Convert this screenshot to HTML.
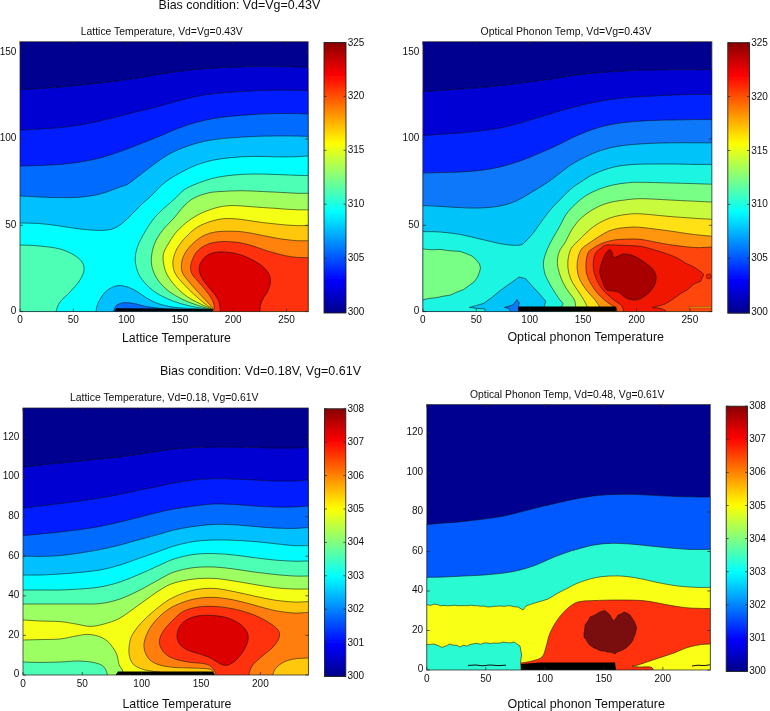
<!DOCTYPE html>
<html><head><meta charset="utf-8"><title>Lattice and optical phonon temperature contours</title>
<style>html,body{margin:0;padding:0;background:#fff}svg{display:block}text{font-family:"Liberation Sans", Arial, sans-serif;fill:#111}</style>
</head><body>
<svg width="770" height="711" viewBox="0 0 770 711">
<rect width="770" height="711" fill="#fff"/>
<defs><clipPath id="ctl"><rect x="20.0" y="41.7" width="288.2" height="269.9"/></clipPath><clipPath id="ctr"><rect x="422.9" y="41.7" width="289.0" height="269.9"/></clipPath><clipPath id="cbl"><rect x="23.0" y="408.0" width="285.4" height="267.0"/></clipPath><clipPath id="cbr"><rect x="426.8" y="404.5" width="283.5" height="265.5"/></clipPath><filter id="bl" x="-2%" y="-2%" width="104%" height="104%"><feGaussianBlur stdDeviation="0.45"/></filter></defs>
<g filter="url(#bl)">
<g clip-path="url(#ctl)">
<rect x="20.0" y="41.7" width="288.2" height="269.9" fill="#000090"/>
<path d="M14.0 89.6C15.2 89.6 16.7 89.8 21.0 89.6C25.3 89.4 33.5 88.8 40.0 88.4C46.5 88.0 53.3 87.6 60.0 87.0C66.7 86.4 73.3 85.7 80.0 85.0C86.7 84.3 93.3 83.7 100.0 83.0C106.7 82.3 113.3 81.5 120.0 80.6C126.7 79.7 133.3 78.7 140.0 77.6C146.7 76.5 154.3 74.9 160.0 74.0C165.7 73.1 168.3 72.7 174.0 72.0C179.7 71.3 187.3 70.3 194.0 69.6C200.7 68.9 207.3 68.4 214.0 68.0C220.7 67.6 227.3 67.3 234.0 67.0C240.7 66.7 247.3 66.5 254.0 66.4C260.7 66.3 267.3 66.3 274.0 66.4C280.7 66.5 288.4 66.6 294.0 66.8C299.6 67.0 304.2 67.3 307.6 67.4C311.0 67.5 313.1 67.4 314.2 67.4L314.2 317.6L14.0 317.6Z" fill="#0000d2"/>
<path d="M14.0 89.6C15.2 89.6 16.7 89.8 21.0 89.6C25.3 89.4 33.5 88.8 40.0 88.4C46.5 88.0 53.3 87.6 60.0 87.0C66.7 86.4 73.3 85.7 80.0 85.0C86.7 84.3 93.3 83.7 100.0 83.0C106.7 82.3 113.3 81.5 120.0 80.6C126.7 79.7 133.3 78.7 140.0 77.6C146.7 76.5 154.3 74.9 160.0 74.0C165.7 73.1 168.3 72.7 174.0 72.0C179.7 71.3 187.3 70.3 194.0 69.6C200.7 68.9 207.3 68.4 214.0 68.0C220.7 67.6 227.3 67.3 234.0 67.0C240.7 66.7 247.3 66.5 254.0 66.4C260.7 66.3 267.3 66.3 274.0 66.4C280.7 66.5 288.4 66.6 294.0 66.8C299.6 67.0 304.2 67.3 307.6 67.4C311.0 67.5 313.1 67.4 314.2 67.4" fill="none" stroke="#111" stroke-opacity="0.62" stroke-width="0.90"/>
<path d="M14.0 130.0C15.2 130.0 16.7 130.2 21.0 130.0C25.3 129.8 33.5 129.4 40.0 129.0C46.5 128.6 53.3 128.3 60.0 127.6C66.7 126.9 73.3 126.1 80.0 125.0C86.7 123.9 93.3 122.5 100.0 121.0C106.7 119.5 113.3 117.7 120.0 116.0C126.7 114.3 133.3 112.7 140.0 111.0C146.7 109.3 154.3 107.5 160.0 106.0C165.7 104.5 168.3 103.5 174.0 102.0C179.7 100.5 187.3 98.4 194.0 97.0C200.7 95.6 207.3 94.4 214.0 93.6C220.7 92.8 227.3 92.5 234.0 92.0C240.7 91.5 247.3 91.1 254.0 90.8C260.7 90.5 267.3 90.3 274.0 90.2C280.7 90.1 288.4 90.1 294.0 90.2C299.6 90.3 304.2 90.5 307.6 90.6C311.0 90.7 313.1 90.6 314.2 90.6L314.2 317.6L14.0 317.6Z" fill="#001cff"/>
<path d="M14.0 130.0C15.2 130.0 16.7 130.2 21.0 130.0C25.3 129.8 33.5 129.4 40.0 129.0C46.5 128.6 53.3 128.3 60.0 127.6C66.7 126.9 73.3 126.1 80.0 125.0C86.7 123.9 93.3 122.5 100.0 121.0C106.7 119.5 113.3 117.7 120.0 116.0C126.7 114.3 133.3 112.7 140.0 111.0C146.7 109.3 154.3 107.5 160.0 106.0C165.7 104.5 168.3 103.5 174.0 102.0C179.7 100.5 187.3 98.4 194.0 97.0C200.7 95.6 207.3 94.4 214.0 93.6C220.7 92.8 227.3 92.5 234.0 92.0C240.7 91.5 247.3 91.1 254.0 90.8C260.7 90.5 267.3 90.3 274.0 90.2C280.7 90.1 288.4 90.1 294.0 90.2C299.6 90.3 304.2 90.5 307.6 90.6C311.0 90.7 313.1 90.6 314.2 90.6" fill="none" stroke="#111" stroke-opacity="0.62" stroke-width="0.90"/>
<path d="M14.0 166.0C15.2 166.0 16.7 166.1 21.0 166.0C25.3 165.9 33.5 165.7 40.0 165.4C46.5 165.1 53.3 165.0 60.0 164.4C66.7 163.8 73.3 163.1 80.0 162.0C86.7 160.9 93.3 159.7 100.0 158.0C106.7 156.3 113.3 153.9 120.0 151.6C126.7 149.3 133.3 146.6 140.0 144.0C146.7 141.4 154.3 138.3 160.0 136.0C165.7 133.7 168.3 132.2 174.0 130.0C179.7 127.8 187.3 124.9 194.0 123.0C200.7 121.1 207.3 119.6 214.0 118.4C220.7 117.2 227.3 116.7 234.0 116.0C240.7 115.3 247.3 114.8 254.0 114.4C260.7 114.0 267.3 113.7 274.0 113.6C280.7 113.5 288.4 113.5 294.0 113.6C299.6 113.7 304.2 113.9 307.6 114.0C311.0 114.1 313.1 114.0 314.2 114.0L314.2 317.6L14.0 317.6Z" fill="#006cff"/>
<path d="M14.0 166.0C15.2 166.0 16.7 166.1 21.0 166.0C25.3 165.9 33.5 165.7 40.0 165.4C46.5 165.1 53.3 165.0 60.0 164.4C66.7 163.8 73.3 163.1 80.0 162.0C86.7 160.9 93.3 159.7 100.0 158.0C106.7 156.3 113.3 153.9 120.0 151.6C126.7 149.3 133.3 146.6 140.0 144.0C146.7 141.4 154.3 138.3 160.0 136.0C165.7 133.7 168.3 132.2 174.0 130.0C179.7 127.8 187.3 124.9 194.0 123.0C200.7 121.1 207.3 119.6 214.0 118.4C220.7 117.2 227.3 116.7 234.0 116.0C240.7 115.3 247.3 114.8 254.0 114.4C260.7 114.0 267.3 113.7 274.0 113.6C280.7 113.5 288.4 113.5 294.0 113.6C299.6 113.7 304.2 113.9 307.6 114.0C311.0 114.1 313.1 114.0 314.2 114.0" fill="none" stroke="#111" stroke-opacity="0.62" stroke-width="0.90"/>
<path d="M14.0 196.0C15.2 196.0 16.7 195.8 21.0 196.0C25.3 196.2 33.5 196.7 40.0 197.0C46.5 197.3 53.3 197.6 60.0 197.6C66.7 197.6 73.3 197.8 80.0 197.2C86.7 196.6 93.3 195.7 100.0 194.0C106.7 192.3 115.3 188.7 120.0 187.0C124.7 185.3 124.7 186.0 128.0 184.0C131.3 182.0 134.7 179.0 140.0 175.0C145.3 171.0 154.3 163.9 160.0 160.0C165.7 156.1 168.3 154.3 174.0 151.6C179.7 148.9 187.3 146.0 194.0 144.0C200.7 142.0 207.3 140.7 214.0 139.6C220.7 138.5 227.3 138.1 234.0 137.6C240.7 137.1 247.3 136.7 254.0 136.4C260.7 136.1 267.3 136.1 274.0 136.0C280.7 135.9 288.4 135.9 294.0 136.0C299.6 136.1 304.2 136.3 307.6 136.4C311.0 136.5 313.1 136.4 314.2 136.4L314.2 317.6L14.0 317.6Z" fill="#00c0ff"/>
<path d="M14.0 196.0C15.2 196.0 16.7 195.8 21.0 196.0C25.3 196.2 33.5 196.7 40.0 197.0C46.5 197.3 53.3 197.6 60.0 197.6C66.7 197.6 73.3 197.8 80.0 197.2C86.7 196.6 93.3 195.7 100.0 194.0C106.7 192.3 115.3 188.7 120.0 187.0C124.7 185.3 124.7 186.0 128.0 184.0C131.3 182.0 134.7 179.0 140.0 175.0C145.3 171.0 154.3 163.9 160.0 160.0C165.7 156.1 168.3 154.3 174.0 151.6C179.7 148.9 187.3 146.0 194.0 144.0C200.7 142.0 207.3 140.7 214.0 139.6C220.7 138.5 227.3 138.1 234.0 137.6C240.7 137.1 247.3 136.7 254.0 136.4C260.7 136.1 267.3 136.1 274.0 136.0C280.7 135.9 288.4 135.9 294.0 136.0C299.6 136.1 304.2 136.3 307.6 136.4C311.0 136.5 313.1 136.4 314.2 136.4" fill="none" stroke="#111" stroke-opacity="0.62" stroke-width="0.90"/>
<path d="M14.0 223.0C15.2 223.0 16.7 222.9 21.0 223.0C25.3 223.1 33.5 223.1 40.0 223.6C46.5 224.1 53.3 225.1 60.0 226.0C66.7 226.9 73.3 228.3 80.0 229.0C86.7 229.7 94.3 230.5 100.0 230.4C105.7 230.3 109.7 230.1 114.0 228.4C118.3 226.7 121.7 223.7 126.0 220.0C130.3 216.3 135.7 210.2 140.0 206.0C144.3 201.8 148.2 198.7 152.0 195.0C155.8 191.3 159.3 187.1 163.0 184.0C166.7 180.9 168.8 179.4 174.0 176.4C179.2 173.4 187.3 168.7 194.0 166.0C200.7 163.3 207.3 161.4 214.0 160.0C220.7 158.6 227.3 158.0 234.0 157.4C240.7 156.8 247.3 156.5 254.0 156.4C260.7 156.3 267.3 156.7 274.0 156.8C280.7 156.9 288.4 156.9 294.0 156.8C299.6 156.7 304.2 156.1 307.6 156.0C311.0 155.9 313.1 156.0 314.2 156.0L314.2 317.6L14.0 317.6Z" fill="#00ffff"/>
<path d="M14.0 223.0C15.2 223.0 16.7 222.9 21.0 223.0C25.3 223.1 33.5 223.1 40.0 223.6C46.5 224.1 53.3 225.1 60.0 226.0C66.7 226.9 73.3 228.3 80.0 229.0C86.7 229.7 94.3 230.5 100.0 230.4C105.7 230.3 109.7 230.1 114.0 228.4C118.3 226.7 121.7 223.7 126.0 220.0C130.3 216.3 135.7 210.2 140.0 206.0C144.3 201.8 148.2 198.7 152.0 195.0C155.8 191.3 159.3 187.1 163.0 184.0C166.7 180.9 168.8 179.4 174.0 176.4C179.2 173.4 187.3 168.7 194.0 166.0C200.7 163.3 207.3 161.4 214.0 160.0C220.7 158.6 227.3 158.0 234.0 157.4C240.7 156.8 247.3 156.5 254.0 156.4C260.7 156.3 267.3 156.7 274.0 156.8C280.7 156.9 288.4 156.9 294.0 156.8C299.6 156.7 304.2 156.1 307.6 156.0C311.0 155.9 313.1 156.0 314.2 156.0" fill="none" stroke="#111" stroke-opacity="0.62" stroke-width="0.90"/>
<path d="M14.0 245.0C15.2 245.0 16.7 244.8 21.0 245.0C25.3 245.2 33.5 245.3 40.0 246.0C46.5 246.7 54.3 247.5 60.0 249.0C65.7 250.5 70.3 252.8 74.0 255.0C77.7 257.2 80.3 259.5 82.0 262.0C83.7 264.5 84.3 267.0 84.0 270.0C83.7 273.0 82.3 276.3 80.0 280.0C77.7 283.7 73.3 288.3 70.0 292.0C66.7 295.7 62.3 298.8 60.0 302.0C57.7 305.2 56.8 308.9 56.0 311.2C55.2 313.5 55.2 315.2 55.0 316.0L14.0 316.0Z" fill="#4dffb4"/>
<path d="M14.0 245.0C15.2 245.0 16.7 244.8 21.0 245.0C25.3 245.2 33.5 245.3 40.0 246.0C46.5 246.7 54.3 247.5 60.0 249.0C65.7 250.5 70.3 252.8 74.0 255.0C77.7 257.2 80.3 259.5 82.0 262.0C83.7 264.5 84.3 267.0 84.0 270.0C83.7 273.0 82.3 276.3 80.0 280.0C77.7 283.7 73.3 288.3 70.0 292.0C66.7 295.7 62.3 298.8 60.0 302.0C57.7 305.2 56.8 308.9 56.0 311.2C55.2 313.5 55.2 315.2 55.0 316.0" fill="none" stroke="#111" stroke-opacity="0.62" stroke-width="0.90"/>
<path d="M314.0 175.6C312.9 175.6 310.9 175.7 307.6 175.6C304.3 175.5 299.6 175.4 294.0 175.2C288.4 175.0 280.7 174.6 274.0 174.4C267.3 174.2 260.7 173.9 254.0 174.0C247.3 174.1 240.7 174.3 234.0 175.0C227.3 175.7 220.3 176.5 214.0 178.0C207.7 179.5 201.0 182.0 196.0 184.0C191.0 186.0 187.7 187.4 184.0 190.0C180.3 192.6 177.7 196.2 174.0 199.5C170.3 202.8 165.6 206.6 162.0 210.0C158.4 213.4 155.6 216.2 152.7 220.0C149.8 223.8 146.8 228.7 144.3 233.0C141.8 237.3 139.3 241.7 137.8 246.0C136.3 250.3 135.2 254.7 135.2 259.0C135.2 263.3 136.3 268.1 137.8 272.0C139.3 275.9 141.3 278.9 144.3 282.3C147.3 285.8 151.4 289.7 156.0 292.7C160.6 295.7 166.2 298.3 171.6 300.5C177.0 302.7 183.2 304.4 188.4 305.7C193.6 307.0 198.6 307.6 202.7 308.3C206.8 309.0 211.4 309.4 213.1 309.6L213.5 317.6L314.2 317.6Z" fill="#4dffb4"/>
<path d="M314.0 175.6C312.9 175.6 310.9 175.7 307.6 175.6C304.3 175.5 299.6 175.4 294.0 175.2C288.4 175.0 280.7 174.6 274.0 174.4C267.3 174.2 260.7 173.9 254.0 174.0C247.3 174.1 240.7 174.3 234.0 175.0C227.3 175.7 220.3 176.5 214.0 178.0C207.7 179.5 201.0 182.0 196.0 184.0C191.0 186.0 187.7 187.4 184.0 190.0C180.3 192.6 177.7 196.2 174.0 199.5C170.3 202.8 165.6 206.6 162.0 210.0C158.4 213.4 155.6 216.2 152.7 220.0C149.8 223.8 146.8 228.7 144.3 233.0C141.8 237.3 139.3 241.7 137.8 246.0C136.3 250.3 135.2 254.7 135.2 259.0C135.2 263.3 136.3 268.1 137.8 272.0C139.3 275.9 141.3 278.9 144.3 282.3C147.3 285.8 151.4 289.7 156.0 292.7C160.6 295.7 166.2 298.3 171.6 300.5C177.0 302.7 183.2 304.4 188.4 305.7C193.6 307.0 198.6 307.6 202.7 308.3C206.8 309.0 211.4 309.4 213.1 309.6" fill="none" stroke="#111" stroke-opacity="0.62" stroke-width="0.90"/>
<path d="M314.0 193.3C312.9 193.3 310.4 193.3 307.6 193.3C304.9 193.3 301.1 193.4 297.5 193.3C293.9 193.2 289.9 192.9 286.2 192.7C282.4 192.5 278.8 192.3 275.0 192.1C271.2 191.9 267.4 191.8 263.7 191.6C259.9 191.4 256.2 191.2 252.5 191.0C248.8 190.8 244.9 190.7 241.2 190.7C237.4 190.7 233.7 190.8 230.0 191.0C226.3 191.2 222.7 191.3 219.0 191.6C215.3 191.9 212.2 191.9 208.0 193.0C203.8 194.1 198.0 195.8 194.0 198.0C190.0 200.2 187.3 202.7 184.0 206.0C180.7 209.3 177.6 213.9 174.0 218.0C170.4 222.1 165.7 226.2 162.5 230.4C159.3 234.6 156.5 238.9 154.7 243.4C152.8 247.9 151.7 253.4 151.4 257.7C151.1 262.0 151.5 265.5 152.7 269.4C153.9 273.3 155.9 277.3 158.6 281.0C161.3 284.7 165.1 288.4 169.0 291.4C172.9 294.4 177.7 297.0 182.0 299.2C186.3 301.4 191.1 303.0 195.0 304.4C198.9 305.8 202.3 306.8 205.3 307.7C208.3 308.6 211.8 309.3 213.1 309.6L213.5 317.6L314.2 317.6Z" fill="#a0ff5e"/>
<path d="M314.0 193.3C312.9 193.3 310.4 193.3 307.6 193.3C304.9 193.3 301.1 193.4 297.5 193.3C293.9 193.2 289.9 192.9 286.2 192.7C282.4 192.5 278.8 192.3 275.0 192.1C271.2 191.9 267.4 191.8 263.7 191.6C259.9 191.4 256.2 191.2 252.5 191.0C248.8 190.8 244.9 190.7 241.2 190.7C237.4 190.7 233.7 190.8 230.0 191.0C226.3 191.2 222.7 191.3 219.0 191.6C215.3 191.9 212.2 191.9 208.0 193.0C203.8 194.1 198.0 195.8 194.0 198.0C190.0 200.2 187.3 202.7 184.0 206.0C180.7 209.3 177.6 213.9 174.0 218.0C170.4 222.1 165.7 226.2 162.5 230.4C159.3 234.6 156.5 238.9 154.7 243.4C152.8 247.9 151.7 253.4 151.4 257.7C151.1 262.0 151.5 265.5 152.7 269.4C153.9 273.3 155.9 277.3 158.6 281.0C161.3 284.7 165.1 288.4 169.0 291.4C172.9 294.4 177.7 297.0 182.0 299.2C186.3 301.4 191.1 303.0 195.0 304.4C198.9 305.8 202.3 306.8 205.3 307.7C208.3 308.6 211.8 309.3 213.1 309.6" fill="none" stroke="#111" stroke-opacity="0.62" stroke-width="0.90"/>
<path d="M314.0 209.8C312.9 209.8 310.4 209.8 307.6 209.8C304.9 209.8 301.1 209.9 297.5 209.8C293.9 209.7 289.9 209.4 286.2 209.2C282.4 208.9 278.8 208.6 275.0 208.3C271.2 208.0 267.4 207.8 263.7 207.6C259.9 207.3 256.2 207.1 252.5 206.8C248.8 206.5 244.9 206.1 241.2 205.9C237.4 205.7 233.7 205.4 230.0 205.6C226.3 205.8 222.4 206.3 219.0 207.0C215.6 207.7 212.4 208.9 209.3 210.0C206.2 211.1 203.7 211.9 200.2 213.7C196.7 215.5 192.1 218.1 188.3 221.0C184.5 223.9 180.4 227.7 177.3 231.0C174.2 234.3 172.2 237.5 170.0 241.1C167.8 244.7 164.9 248.9 163.8 252.5C162.7 256.1 163.0 259.2 163.5 262.9C164.0 266.6 165.0 270.6 167.0 274.5C169.0 278.4 172.2 282.5 175.5 286.2C178.8 289.9 183.2 293.8 187.1 296.6C191.0 299.4 195.3 301.3 198.8 303.1C202.3 304.9 205.5 306.2 207.9 307.3C210.3 308.4 212.2 309.2 213.1 309.6L213.5 317.6L314.2 317.6Z" fill="#f5ff14"/>
<path d="M314.0 209.8C312.9 209.8 310.4 209.8 307.6 209.8C304.9 209.8 301.1 209.9 297.5 209.8C293.9 209.7 289.9 209.4 286.2 209.2C282.4 208.9 278.8 208.6 275.0 208.3C271.2 208.0 267.4 207.8 263.7 207.6C259.9 207.3 256.2 207.1 252.5 206.8C248.8 206.5 244.9 206.1 241.2 205.9C237.4 205.7 233.7 205.4 230.0 205.6C226.3 205.8 222.4 206.3 219.0 207.0C215.6 207.7 212.4 208.9 209.3 210.0C206.2 211.1 203.7 211.9 200.2 213.7C196.7 215.5 192.1 218.1 188.3 221.0C184.5 223.9 180.4 227.7 177.3 231.0C174.2 234.3 172.2 237.5 170.0 241.1C167.8 244.7 164.9 248.9 163.8 252.5C162.7 256.1 163.0 259.2 163.5 262.9C164.0 266.6 165.0 270.6 167.0 274.5C169.0 278.4 172.2 282.5 175.5 286.2C178.8 289.9 183.2 293.8 187.1 296.6C191.0 299.4 195.3 301.3 198.8 303.1C202.3 304.9 205.5 306.2 207.9 307.3C210.3 308.4 212.2 309.2 213.1 309.6" fill="none" stroke="#111" stroke-opacity="0.62" stroke-width="0.90"/>
<path d="M314.0 225.6C312.9 225.6 310.4 225.6 307.6 225.6C304.9 225.6 301.1 225.7 297.5 225.6C293.9 225.5 289.9 225.3 286.2 225.0C282.4 224.7 278.8 224.3 275.0 223.9C271.2 223.5 267.4 223.2 263.7 222.7C259.9 222.2 256.2 221.6 252.5 221.1C248.8 220.6 244.8 219.8 241.2 219.4C237.6 219.0 234.5 218.7 231.0 218.6C227.5 218.5 224.4 218.4 220.3 219.1C216.2 219.8 210.7 221.3 206.6 222.8C202.5 224.3 199.1 225.9 195.6 228.3C192.1 230.7 188.4 234.4 185.5 237.4C182.6 240.4 180.1 243.6 178.2 246.6C176.3 249.6 175.0 252.7 174.1 255.7C173.2 258.7 172.7 261.4 172.9 264.5C173.1 267.6 173.8 270.8 175.5 274.0C177.2 277.2 180.2 280.3 183.2 283.6C186.2 286.9 190.1 290.8 193.6 294.0C197.1 297.2 201.2 300.8 204.0 303.1C206.8 305.4 209.0 306.6 210.5 307.7C212.0 308.8 212.7 309.3 213.1 309.6L213.5 317.6L314.2 317.6Z" fill="#ffc80a"/>
<path d="M314.0 225.6C312.9 225.6 310.4 225.6 307.6 225.6C304.9 225.6 301.1 225.7 297.5 225.6C293.9 225.5 289.9 225.3 286.2 225.0C282.4 224.7 278.8 224.3 275.0 223.9C271.2 223.5 267.4 223.2 263.7 222.7C259.9 222.2 256.2 221.6 252.5 221.1C248.8 220.6 244.8 219.8 241.2 219.4C237.6 219.0 234.5 218.7 231.0 218.6C227.5 218.5 224.4 218.4 220.3 219.1C216.2 219.8 210.7 221.3 206.6 222.8C202.5 224.3 199.1 225.9 195.6 228.3C192.1 230.7 188.4 234.4 185.5 237.4C182.6 240.4 180.1 243.6 178.2 246.6C176.3 249.6 175.0 252.7 174.1 255.7C173.2 258.7 172.7 261.4 172.9 264.5C173.1 267.6 173.8 270.8 175.5 274.0C177.2 277.2 180.2 280.3 183.2 283.6C186.2 286.9 190.1 290.8 193.6 294.0C197.1 297.2 201.2 300.8 204.0 303.1C206.8 305.4 209.0 306.6 210.5 307.7C212.0 308.8 212.7 309.3 213.1 309.6" fill="none" stroke="#111" stroke-opacity="0.62" stroke-width="0.90"/>
<path d="M314.0 240.7C312.9 240.7 310.4 240.7 307.6 240.7C304.9 240.7 301.1 240.9 297.5 240.7C293.9 240.5 289.9 240.1 286.2 239.6C282.4 239.1 278.8 238.6 275.0 237.9C271.2 237.2 267.4 236.4 263.7 235.7C259.9 234.9 256.2 234.1 252.5 233.4C248.8 232.7 245.0 232.1 241.2 231.7C237.3 231.3 233.7 231.2 229.4 231.2C225.2 231.2 219.8 231.2 215.7 231.9C211.6 232.6 208.0 233.6 204.7 235.1C201.3 236.6 198.3 238.9 195.6 241.1C192.9 243.3 190.3 246.0 188.3 248.4C186.3 250.8 184.8 253.0 183.7 255.7C182.5 258.4 181.6 261.8 181.4 264.8C181.2 267.8 181.6 270.8 182.8 273.5C184.0 276.2 186.2 278.2 188.4 281.0C190.6 283.8 193.4 287.0 196.2 290.1C199.0 293.2 202.8 297.2 205.3 299.9C207.8 302.6 209.9 304.8 211.2 306.4C212.5 308.0 213.0 309.1 213.3 309.6L213.5 317.6L314.2 317.6Z" fill="#ff820a"/>
<path d="M314.0 240.7C312.9 240.7 310.4 240.7 307.6 240.7C304.9 240.7 301.1 240.9 297.5 240.7C293.9 240.5 289.9 240.1 286.2 239.6C282.4 239.1 278.8 238.6 275.0 237.9C271.2 237.2 267.4 236.4 263.7 235.7C259.9 234.9 256.2 234.1 252.5 233.4C248.8 232.7 245.0 232.1 241.2 231.7C237.3 231.3 233.7 231.2 229.4 231.2C225.2 231.2 219.8 231.2 215.7 231.9C211.6 232.6 208.0 233.6 204.7 235.1C201.3 236.6 198.3 238.9 195.6 241.1C192.9 243.3 190.3 246.0 188.3 248.4C186.3 250.8 184.8 253.0 183.7 255.7C182.5 258.4 181.6 261.8 181.4 264.8C181.2 267.8 181.6 270.8 182.8 273.5C184.0 276.2 186.2 278.2 188.4 281.0C190.6 283.8 193.4 287.0 196.2 290.1C199.0 293.2 202.8 297.2 205.3 299.9C207.8 302.6 209.9 304.8 211.2 306.4C212.5 308.0 213.0 309.1 213.3 309.6" fill="none" stroke="#111" stroke-opacity="0.62" stroke-width="0.90"/>
<path d="M314.0 257.6C312.9 257.6 310.4 257.6 307.6 257.6C304.9 257.6 301.1 257.7 297.5 257.4C293.9 257.1 289.9 256.6 286.2 255.9C282.4 255.2 278.8 254.1 275.0 253.1C271.2 252.1 267.4 250.9 263.7 249.7C259.9 248.5 256.2 246.9 252.5 245.8C248.8 244.7 244.3 243.6 241.2 243.0C238.1 242.4 236.7 242.2 234.0 242.0C231.3 241.8 228.2 241.4 224.8 241.5C221.5 241.6 217.2 241.7 213.9 242.4C210.6 243.1 207.4 244.2 204.7 245.6C201.9 247.0 199.4 249.0 197.4 251.1C195.4 253.2 194.0 255.8 192.9 258.4C191.8 261.0 190.7 264.0 190.6 266.7C190.5 269.4 190.9 271.9 192.3 274.5C193.7 277.1 196.4 279.5 198.8 282.3C201.2 285.1 204.4 288.6 206.6 291.4C208.8 294.2 210.5 296.8 211.8 299.2C213.1 301.6 213.9 304.0 214.2 305.7C214.5 307.4 213.9 309.0 213.8 309.6L213.5 317.6L314.2 317.6Z" fill="#ff320a"/>
<path d="M314.0 257.6C312.9 257.6 310.4 257.6 307.6 257.6C304.9 257.6 301.1 257.7 297.5 257.4C293.9 257.1 289.9 256.6 286.2 255.9C282.4 255.2 278.8 254.1 275.0 253.1C271.2 252.1 267.4 250.9 263.7 249.7C259.9 248.5 256.2 246.9 252.5 245.8C248.8 244.7 244.3 243.6 241.2 243.0C238.1 242.4 236.7 242.2 234.0 242.0C231.3 241.8 228.2 241.4 224.8 241.5C221.5 241.6 217.2 241.7 213.9 242.4C210.6 243.1 207.4 244.2 204.7 245.6C201.9 247.0 199.4 249.0 197.4 251.1C195.4 253.2 194.0 255.8 192.9 258.4C191.8 261.0 190.7 264.0 190.6 266.7C190.5 269.4 190.9 271.9 192.3 274.5C193.7 277.1 196.4 279.5 198.8 282.3C201.2 285.1 204.4 288.6 206.6 291.4C208.8 294.2 210.5 296.8 211.8 299.2C213.1 301.6 213.9 304.0 214.2 305.7C214.5 307.4 213.9 309.0 213.8 309.6" fill="none" stroke="#111" stroke-opacity="0.62" stroke-width="0.90"/>
<path d="M220.5 316.0C220.5 315.2 220.6 313.9 220.3 311.5C220.1 309.1 220.0 304.7 219.0 301.8C218.0 298.9 216.2 296.6 214.4 294.0C212.6 291.4 210.1 289.0 207.9 286.2C205.7 283.4 202.9 280.1 201.4 277.1C199.9 274.2 199.1 271.1 199.1 268.5C199.1 265.9 200.2 263.3 201.5 261.2C202.8 259.1 204.5 257.1 206.6 255.7C208.7 254.2 211.2 253.1 213.9 252.5C216.6 251.9 219.9 251.8 223.0 251.9C226.1 252.0 228.8 252.2 232.2 252.8C235.6 253.5 239.2 254.1 243.5 255.8C247.8 257.5 254.0 260.4 258.0 263.0C262.0 265.6 265.3 268.6 267.4 271.4C269.5 274.2 270.3 276.6 270.5 279.7C270.7 282.8 269.6 286.9 268.4 290.0C267.2 293.1 264.5 295.9 263.2 298.4C261.9 300.9 261.0 302.8 260.5 305.0C260.0 307.2 260.1 309.7 260.0 311.5C259.9 313.3 260.0 315.2 260.0 316.0" fill="#dc0000"/>
<path d="M220.5 316.0C220.5 315.2 220.6 313.9 220.3 311.5C220.1 309.1 220.0 304.7 219.0 301.8C218.0 298.9 216.2 296.6 214.4 294.0C212.6 291.4 210.1 289.0 207.9 286.2C205.7 283.4 202.9 280.1 201.4 277.1C199.9 274.2 199.1 271.1 199.1 268.5C199.1 265.9 200.2 263.3 201.5 261.2C202.8 259.1 204.5 257.1 206.6 255.7C208.7 254.2 211.2 253.1 213.9 252.5C216.6 251.9 219.9 251.8 223.0 251.9C226.1 252.0 228.8 252.2 232.2 252.8C235.6 253.5 239.2 254.1 243.5 255.8C247.8 257.5 254.0 260.4 258.0 263.0C262.0 265.6 265.3 268.6 267.4 271.4C269.5 274.2 270.3 276.6 270.5 279.7C270.7 282.8 269.6 286.9 268.4 290.0C267.2 293.1 264.5 295.9 263.2 298.4C261.9 300.9 261.0 302.8 260.5 305.0C260.0 307.2 260.1 309.7 260.0 311.5C259.9 313.3 260.0 315.2 260.0 316.0" fill="none" stroke="#111" stroke-opacity="0.62" stroke-width="0.90"/>
<path d="M96.0 316.0C96.0 315.2 95.6 313.7 96.0 311.5C96.4 309.3 96.6 306.0 98.2 302.7C99.8 299.4 102.8 294.5 105.5 291.8C108.2 289.1 111.5 287.4 114.5 286.4C117.5 285.4 120.3 285.4 123.6 286.0C126.9 286.6 130.8 288.1 134.5 290.0C138.2 291.9 141.6 295.0 145.5 297.3C149.4 299.6 153.4 301.9 158.2 303.6C163.0 305.3 168.8 306.5 174.5 307.3C180.2 308.1 186.6 308.2 192.7 308.5C198.8 308.8 207.9 309.2 211.0 309.3L211.0 316.0Z" fill="#00c0ff"/>
<path d="M96.0 316.0C96.0 315.2 95.6 313.7 96.0 311.5C96.4 309.3 96.6 306.0 98.2 302.7C99.8 299.4 102.8 294.5 105.5 291.8C108.2 289.1 111.5 287.4 114.5 286.4C117.5 285.4 120.3 285.4 123.6 286.0C126.9 286.6 130.8 288.1 134.5 290.0C138.2 291.9 141.6 295.0 145.5 297.3C149.4 299.6 153.4 301.9 158.2 303.6C163.0 305.3 168.8 306.5 174.5 307.3C180.2 308.1 186.6 308.2 192.7 308.5C198.8 308.8 207.9 309.2 211.0 309.3" fill="none" stroke="#111" stroke-opacity="0.62" stroke-width="0.90"/>
<path d="M113.6 316.0C113.6 315.2 113.1 313.2 113.6 311.5C114.1 309.8 114.7 307.0 116.4 305.5C118.1 304.0 120.6 303.0 123.6 302.7C126.6 302.4 130.8 303.0 134.5 303.6C138.2 304.2 140.9 305.6 145.5 306.4C150.1 307.2 156.1 308.0 161.8 308.5C167.6 309.0 177.0 309.3 180.0 309.5L180.0 316.0Z" fill="#006cff"/>
<path d="M113.6 316.0C113.6 315.2 113.1 313.2 113.6 311.5C114.1 309.8 114.7 307.0 116.4 305.5C118.1 304.0 120.6 303.0 123.6 302.7C126.6 302.4 130.8 303.0 134.5 303.6C138.2 304.2 140.9 305.6 145.5 306.4C150.1 307.2 156.1 308.0 161.8 308.5C167.6 309.0 177.0 309.3 180.0 309.5" fill="none" stroke="#111" stroke-opacity="0.62" stroke-width="0.90"/>
<path d="M114 312L116 308.3L160 308.6L213.5 309.2L213.5 312Z" fill="#000"/>
</g>
<rect x="20.0" y="41.7" width="288.2" height="269.9" fill="none" stroke="#222" stroke-opacity="0.8" stroke-width="0.9"/>
<g clip-path="url(#ctr)">
<rect x="422.9" y="41.7" width="289.0" height="269.9" fill="#000090"/>
<path d="M416.9 91.6C417.9 91.6 419.1 91.8 423.0 91.6C426.9 91.4 433.8 90.8 440.0 90.4C446.2 90.0 453.3 89.5 460.0 89.0C466.7 88.5 473.3 88.2 480.0 87.6C486.7 87.0 493.3 86.4 500.0 85.6C506.7 84.8 513.3 83.8 520.0 83.0C526.7 82.2 533.3 81.5 540.0 80.6C546.7 79.7 554.3 78.5 560.0 77.6C565.7 76.7 568.3 76.1 574.0 75.3C579.7 74.5 587.3 73.6 594.0 73.0C600.7 72.4 607.3 72.0 614.0 71.6C620.7 71.2 627.3 70.7 634.0 70.4C640.7 70.1 647.3 70.1 654.0 70.0C660.7 69.9 667.3 69.7 674.0 69.6C680.7 69.5 687.7 69.6 694.0 69.6C700.3 69.6 707.6 69.6 711.6 69.6C715.6 69.6 716.9 69.6 717.9 69.6L717.9 317.6L416.9 317.6Z" fill="#0000d4"/>
<path d="M416.9 91.6C417.9 91.6 419.1 91.8 423.0 91.6C426.9 91.4 433.8 90.8 440.0 90.4C446.2 90.0 453.3 89.5 460.0 89.0C466.7 88.5 473.3 88.2 480.0 87.6C486.7 87.0 493.3 86.4 500.0 85.6C506.7 84.8 513.3 83.8 520.0 83.0C526.7 82.2 533.3 81.5 540.0 80.6C546.7 79.7 554.3 78.5 560.0 77.6C565.7 76.7 568.3 76.1 574.0 75.3C579.7 74.5 587.3 73.6 594.0 73.0C600.7 72.4 607.3 72.0 614.0 71.6C620.7 71.2 627.3 70.7 634.0 70.4C640.7 70.1 647.3 70.1 654.0 70.0C660.7 69.9 667.3 69.7 674.0 69.6C680.7 69.5 687.7 69.6 694.0 69.6C700.3 69.6 707.6 69.6 711.6 69.6C715.6 69.6 716.9 69.6 717.9 69.6" fill="none" stroke="#111" stroke-opacity="0.62" stroke-width="0.90"/>
<path d="M416.9 135.6C417.9 135.6 419.1 135.8 423.0 135.6C426.9 135.4 433.8 134.8 440.0 134.4C446.2 134.0 453.3 133.6 460.0 133.0C466.7 132.4 473.3 131.8 480.0 131.0C486.7 130.2 493.3 129.3 500.0 128.0C506.7 126.7 513.3 124.8 520.0 123.0C526.7 121.2 533.3 119.0 540.0 117.0C546.7 115.0 554.3 112.7 560.0 111.0C565.7 109.3 568.3 108.4 574.0 107.0C579.7 105.6 587.3 103.7 594.0 102.4C600.7 101.1 607.3 99.9 614.0 99.0C620.7 98.1 627.3 97.5 634.0 97.0C640.7 96.5 647.3 96.3 654.0 96.0C660.7 95.7 667.3 95.3 674.0 95.0C680.7 94.7 687.7 94.5 694.0 94.4C700.3 94.3 707.6 94.4 711.6 94.4C715.6 94.4 716.9 94.4 717.9 94.4L717.9 317.6L416.9 317.6Z" fill="#0024ff"/>
<path d="M416.9 135.6C417.9 135.6 419.1 135.8 423.0 135.6C426.9 135.4 433.8 134.8 440.0 134.4C446.2 134.0 453.3 133.6 460.0 133.0C466.7 132.4 473.3 131.8 480.0 131.0C486.7 130.2 493.3 129.3 500.0 128.0C506.7 126.7 513.3 124.8 520.0 123.0C526.7 121.2 533.3 119.0 540.0 117.0C546.7 115.0 554.3 112.7 560.0 111.0C565.7 109.3 568.3 108.4 574.0 107.0C579.7 105.6 587.3 103.7 594.0 102.4C600.7 101.1 607.3 99.9 614.0 99.0C620.7 98.1 627.3 97.5 634.0 97.0C640.7 96.5 647.3 96.3 654.0 96.0C660.7 95.7 667.3 95.3 674.0 95.0C680.7 94.7 687.7 94.5 694.0 94.4C700.3 94.3 707.6 94.4 711.6 94.4C715.6 94.4 716.9 94.4 717.9 94.4" fill="none" stroke="#111" stroke-opacity="0.62" stroke-width="0.90"/>
<path d="M416.9 173.0C417.9 173.0 419.1 173.1 423.0 173.0C426.9 172.9 433.8 172.8 440.0 172.6C446.2 172.4 453.3 172.4 460.0 172.0C466.7 171.6 473.3 171.2 480.0 170.4C486.7 169.6 493.3 168.6 500.0 167.0C506.7 165.4 513.3 163.3 520.0 161.0C526.7 158.7 533.3 155.8 540.0 153.0C546.7 150.2 554.3 146.7 560.0 144.0C565.7 141.3 568.3 139.5 574.0 137.0C579.7 134.5 587.3 131.2 594.0 129.0C600.7 126.8 607.3 125.2 614.0 124.0C620.7 122.8 627.3 122.2 634.0 121.6C640.7 121.0 647.3 120.7 654.0 120.4C660.7 120.1 667.3 120.1 674.0 120.0C680.7 119.9 687.7 119.7 694.0 119.6C700.3 119.5 707.6 119.6 711.6 119.6C715.6 119.6 716.9 119.6 717.9 119.6L717.9 317.6L416.9 317.6Z" fill="#0a78fa"/>
<path d="M416.9 173.0C417.9 173.0 419.1 173.1 423.0 173.0C426.9 172.9 433.8 172.8 440.0 172.6C446.2 172.4 453.3 172.4 460.0 172.0C466.7 171.6 473.3 171.2 480.0 170.4C486.7 169.6 493.3 168.6 500.0 167.0C506.7 165.4 513.3 163.3 520.0 161.0C526.7 158.7 533.3 155.8 540.0 153.0C546.7 150.2 554.3 146.7 560.0 144.0C565.7 141.3 568.3 139.5 574.0 137.0C579.7 134.5 587.3 131.2 594.0 129.0C600.7 126.8 607.3 125.2 614.0 124.0C620.7 122.8 627.3 122.2 634.0 121.6C640.7 121.0 647.3 120.7 654.0 120.4C660.7 120.1 667.3 120.1 674.0 120.0C680.7 119.9 687.7 119.7 694.0 119.6C700.3 119.5 707.6 119.6 711.6 119.6C715.6 119.6 716.9 119.6 717.9 119.6" fill="none" stroke="#111" stroke-opacity="0.62" stroke-width="0.90"/>
<path d="M416.9 205.6C417.9 205.6 419.1 205.5 423.0 205.6C426.9 205.7 433.8 206.1 440.0 206.4C446.2 206.7 453.3 207.3 460.0 207.6C466.7 207.9 473.3 208.3 480.0 208.0C486.7 207.7 494.0 207.2 500.0 206.0C506.0 204.8 510.7 203.3 516.0 201.0C521.3 198.7 526.7 195.2 532.0 192.0C537.3 188.8 543.3 185.2 548.0 182.0C552.7 178.8 555.7 176.2 560.0 173.0C564.3 169.8 568.3 166.3 574.0 163.0C579.7 159.7 587.3 155.7 594.0 153.0C600.7 150.3 607.3 148.4 614.0 147.0C620.7 145.6 627.3 145.0 634.0 144.4C640.7 143.8 647.3 143.5 654.0 143.2C660.7 142.9 667.3 142.9 674.0 142.8C680.7 142.7 687.7 142.8 694.0 142.8C700.3 142.8 707.6 142.8 711.6 142.8C715.6 142.8 716.9 142.8 717.9 142.8L717.9 317.6L416.9 317.6Z" fill="#00c3fa"/>
<path d="M416.9 205.6C417.9 205.6 419.1 205.5 423.0 205.6C426.9 205.7 433.8 206.1 440.0 206.4C446.2 206.7 453.3 207.3 460.0 207.6C466.7 207.9 473.3 208.3 480.0 208.0C486.7 207.7 494.0 207.2 500.0 206.0C506.0 204.8 510.7 203.3 516.0 201.0C521.3 198.7 526.7 195.2 532.0 192.0C537.3 188.8 543.3 185.2 548.0 182.0C552.7 178.8 555.7 176.2 560.0 173.0C564.3 169.8 568.3 166.3 574.0 163.0C579.7 159.7 587.3 155.7 594.0 153.0C600.7 150.3 607.3 148.4 614.0 147.0C620.7 145.6 627.3 145.0 634.0 144.4C640.7 143.8 647.3 143.5 654.0 143.2C660.7 142.9 667.3 142.9 674.0 142.8C680.7 142.7 687.7 142.8 694.0 142.8C700.3 142.8 707.6 142.8 711.6 142.8C715.6 142.8 716.9 142.8 717.9 142.8" fill="none" stroke="#111" stroke-opacity="0.62" stroke-width="0.90"/>
<path d="M416.9 231.6C417.9 231.6 419.1 231.5 423.0 231.6C426.9 231.7 433.8 231.5 440.0 232.0C446.2 232.5 453.3 233.2 460.0 234.4C466.7 235.6 473.3 237.5 480.0 239.0C486.7 240.5 494.3 242.5 500.0 243.6C505.7 244.7 510.3 245.2 514.0 245.3C517.7 245.4 519.8 245.3 522.0 244.4C524.2 243.5 525.0 242.1 527.0 240.0C529.0 237.9 531.2 235.7 534.0 232.0C536.8 228.3 541.0 222.0 544.0 218.0C547.0 214.0 549.3 211.0 552.0 208.0C554.7 205.0 556.9 202.9 560.0 199.8C563.1 196.7 566.9 192.4 570.4 189.4C573.9 186.4 576.9 184.6 580.8 182.0C584.7 179.4 588.5 176.5 594.0 174.0C599.5 171.5 607.3 168.6 614.0 167.0C620.7 165.4 627.3 164.9 634.0 164.4C640.7 163.9 647.3 164.1 654.0 164.0C660.7 163.9 667.3 163.9 674.0 164.0C680.7 164.1 687.7 164.3 694.0 164.4C700.3 164.5 707.6 164.4 711.6 164.4C715.6 164.4 716.9 164.4 717.9 164.4L717.9 317.6L416.9 317.6Z" fill="#1ef5e1"/>
<path d="M416.9 231.6C417.9 231.6 419.1 231.5 423.0 231.6C426.9 231.7 433.8 231.5 440.0 232.0C446.2 232.5 453.3 233.2 460.0 234.4C466.7 235.6 473.3 237.5 480.0 239.0C486.7 240.5 494.3 242.5 500.0 243.6C505.7 244.7 510.3 245.2 514.0 245.3C517.7 245.4 519.8 245.3 522.0 244.4C524.2 243.5 525.0 242.1 527.0 240.0C529.0 237.9 531.2 235.7 534.0 232.0C536.8 228.3 541.0 222.0 544.0 218.0C547.0 214.0 549.3 211.0 552.0 208.0C554.7 205.0 556.9 202.9 560.0 199.8C563.1 196.7 566.9 192.4 570.4 189.4C573.9 186.4 576.9 184.6 580.8 182.0C584.7 179.4 588.5 176.5 594.0 174.0C599.5 171.5 607.3 168.6 614.0 167.0C620.7 165.4 627.3 164.9 634.0 164.4C640.7 163.9 647.3 164.1 654.0 164.0C660.7 163.9 667.3 163.9 674.0 164.0C680.7 164.1 687.7 164.3 694.0 164.4C700.3 164.5 707.6 164.4 711.6 164.4C715.6 164.4 716.9 164.4 717.9 164.4" fill="none" stroke="#111" stroke-opacity="0.62" stroke-width="0.90"/>
<path d="M416.0 249.0L423.0 249.0L432.0 249.8L440.0 249.4L450.0 250.8L460.0 251.4L466.0 253.5L472.0 256.0L476.0 259.5L479.5 264.0L480.5 268.0L479.5 272.0L477.5 277.0L474.0 282.0L469.0 285.5L464.0 289.4L457.0 292.0L450.0 295.2L443.0 296.2L436.0 297.8L429.0 298.4L423.0 299.8L416.0 300.0" fill="#78ff86"/>
<path d="M416.0 249.0L423.0 249.0L432.0 249.8L440.0 249.4L450.0 250.8L460.0 251.4L466.0 253.5L472.0 256.0L476.0 259.5L479.5 264.0L480.5 268.0L479.5 272.0L477.5 277.0L474.0 282.0L469.0 285.5L464.0 289.4L457.0 292.0L450.0 295.2L443.0 296.2L436.0 297.8L429.0 298.4L423.0 299.8L416.0 300.0" fill="none" stroke="#111" stroke-opacity="0.62" stroke-width="0.90"/>
<path d="M718.0 184.2C716.9 184.2 716.3 184.3 711.6 184.2C706.9 184.1 696.9 183.7 690.0 183.5C683.1 183.3 678.3 183.2 670.0 183.0C661.7 182.8 647.2 182.3 640.0 182.3C632.8 182.3 631.3 182.4 626.6 182.9C621.9 183.4 616.7 184.1 612.0 185.2C607.3 186.3 602.8 187.7 598.5 189.4C594.2 191.1 589.8 193.2 586.0 195.6C582.2 198.0 578.9 200.8 575.6 203.9C572.3 207.0 568.8 210.7 566.2 214.3C563.6 218.0 562.2 221.9 560.0 225.8C557.8 229.8 555.2 234.0 553.0 238.0C550.8 242.0 548.6 246.0 547.0 250.0C545.4 254.0 543.9 258.3 543.5 262.0C543.1 265.7 543.9 269.1 544.5 272.0C545.1 274.9 545.8 276.2 547.3 279.3C548.8 282.4 551.4 286.9 553.5 290.3C555.6 293.7 558.1 297.4 559.7 299.6C561.3 301.8 562.7 302.3 562.9 303.5C563.1 304.7 561.3 306.4 561.0 307.0L561.0 317.6L717.9 317.6Z" fill="#78ff86"/>
<path d="M718.0 184.2C716.9 184.2 716.3 184.3 711.6 184.2C706.9 184.1 696.9 183.7 690.0 183.5C683.1 183.3 678.3 183.2 670.0 183.0C661.7 182.8 647.2 182.3 640.0 182.3C632.8 182.3 631.3 182.4 626.6 182.9C621.9 183.4 616.7 184.1 612.0 185.2C607.3 186.3 602.8 187.7 598.5 189.4C594.2 191.1 589.8 193.2 586.0 195.6C582.2 198.0 578.9 200.8 575.6 203.9C572.3 207.0 568.8 210.7 566.2 214.3C563.6 218.0 562.2 221.9 560.0 225.8C557.8 229.8 555.2 234.0 553.0 238.0C550.8 242.0 548.6 246.0 547.0 250.0C545.4 254.0 543.9 258.3 543.5 262.0C543.1 265.7 543.9 269.1 544.5 272.0C545.1 274.9 545.8 276.2 547.3 279.3C548.8 282.4 551.4 286.9 553.5 290.3C555.6 293.7 558.1 297.4 559.7 299.6C561.3 301.8 562.7 302.3 562.9 303.5C563.1 304.7 561.3 306.4 561.0 307.0" fill="none" stroke="#111" stroke-opacity="0.62" stroke-width="0.90"/>
<path d="M718.0 202.0C716.9 202.0 716.3 202.2 711.6 202.0C706.9 201.8 696.9 201.3 690.0 201.0C683.1 200.7 678.3 200.4 670.0 200.0C661.7 199.6 647.9 198.6 640.0 198.7C632.1 198.8 627.4 199.7 622.4 200.3C617.4 200.9 614.0 201.4 610.0 202.4C606.0 203.4 602.3 204.7 598.5 206.5C594.7 208.3 590.5 210.8 587.0 213.3C583.5 215.8 580.5 218.5 577.7 221.6C574.9 224.7 572.5 228.5 570.4 232.0C568.3 235.5 566.9 239.4 565.2 242.4C563.5 245.4 561.3 247.2 560.0 250.0C558.7 252.8 557.8 256.0 557.5 259.0C557.2 262.0 557.3 264.6 558.0 268.0C558.7 271.4 560.2 276.0 561.5 279.3C562.8 282.6 564.4 285.4 566.0 288.0C567.6 290.6 569.6 293.0 571.0 295.0C572.4 297.0 573.8 298.3 574.5 300.0C575.2 301.7 575.4 303.7 575.5 305.0C575.6 306.3 575.1 307.5 575.0 308.0L575.0 317.6L717.9 317.6Z" fill="#c8fa3c"/>
<path d="M718.0 202.0C716.9 202.0 716.3 202.2 711.6 202.0C706.9 201.8 696.9 201.3 690.0 201.0C683.1 200.7 678.3 200.4 670.0 200.0C661.7 199.6 647.9 198.6 640.0 198.7C632.1 198.8 627.4 199.7 622.4 200.3C617.4 200.9 614.0 201.4 610.0 202.4C606.0 203.4 602.3 204.7 598.5 206.5C594.7 208.3 590.5 210.8 587.0 213.3C583.5 215.8 580.5 218.5 577.7 221.6C574.9 224.7 572.5 228.5 570.4 232.0C568.3 235.5 566.9 239.4 565.2 242.4C563.5 245.4 561.3 247.2 560.0 250.0C558.7 252.8 557.8 256.0 557.5 259.0C557.2 262.0 557.3 264.6 558.0 268.0C558.7 271.4 560.2 276.0 561.5 279.3C562.8 282.6 564.4 285.4 566.0 288.0C567.6 290.6 569.6 293.0 571.0 295.0C572.4 297.0 573.8 298.3 574.5 300.0C575.2 301.7 575.4 303.7 575.5 305.0C575.6 306.3 575.1 307.5 575.0 308.0" fill="none" stroke="#111" stroke-opacity="0.62" stroke-width="0.90"/>
<path d="M718.0 219.3C716.9 219.3 716.3 219.5 711.6 219.3C706.9 219.1 696.9 218.5 690.0 218.0C683.1 217.5 678.3 217.2 670.0 216.5C661.7 215.8 647.1 214.2 640.0 213.8C632.9 213.4 631.7 213.9 627.6 214.3C623.5 214.7 619.2 215.4 615.2 216.4C611.2 217.4 607.4 218.9 603.7 220.6C600.1 222.3 596.6 224.4 593.3 226.8C590.0 229.2 586.4 232.7 584.0 235.0C581.6 237.3 580.6 238.5 578.7 240.4C576.8 242.3 574.0 244.5 572.5 246.6C571.0 248.7 570.2 250.3 569.4 253.0C568.6 255.7 567.9 259.4 567.8 262.7C567.7 266.0 568.0 269.7 568.8 273.0C569.6 276.3 570.9 279.4 572.5 282.5C574.1 285.6 576.8 288.9 578.7 291.9C580.6 294.8 582.6 297.8 584.0 300.2C585.4 302.6 586.5 305.1 587.0 306.4C587.5 307.7 587.0 307.7 587.0 308.0L587.0 317.6L717.9 317.6Z" fill="#ffe114"/>
<path d="M718.0 219.3C716.9 219.3 716.3 219.5 711.6 219.3C706.9 219.1 696.9 218.5 690.0 218.0C683.1 217.5 678.3 217.2 670.0 216.5C661.7 215.8 647.1 214.2 640.0 213.8C632.9 213.4 631.7 213.9 627.6 214.3C623.5 214.7 619.2 215.4 615.2 216.4C611.2 217.4 607.4 218.9 603.7 220.6C600.1 222.3 596.6 224.4 593.3 226.8C590.0 229.2 586.4 232.7 584.0 235.0C581.6 237.3 580.6 238.5 578.7 240.4C576.8 242.3 574.0 244.5 572.5 246.6C571.0 248.7 570.2 250.3 569.4 253.0C568.6 255.7 567.9 259.4 567.8 262.7C567.7 266.0 568.0 269.7 568.8 273.0C569.6 276.3 570.9 279.4 572.5 282.5C574.1 285.6 576.8 288.9 578.7 291.9C580.6 294.8 582.6 297.8 584.0 300.2C585.4 302.6 586.5 305.1 587.0 306.4C587.5 307.7 587.0 307.7 587.0 308.0" fill="none" stroke="#111" stroke-opacity="0.62" stroke-width="0.90"/>
<path d="M718.0 236.2C716.9 236.2 716.3 236.6 711.6 236.2C706.9 235.8 696.9 234.9 690.0 234.0C683.1 233.1 678.3 232.1 670.0 231.0C661.7 229.9 646.9 227.9 640.0 227.3C633.1 226.7 632.3 227.1 628.7 227.3C625.1 227.5 621.6 227.8 618.3 228.4C615.0 229.0 612.0 229.7 608.9 231.0C605.8 232.3 602.6 234.3 599.5 236.2C596.4 238.1 593.0 240.5 590.2 242.4C587.4 244.3 584.7 245.8 582.9 247.6C581.1 249.4 580.5 250.5 579.5 253.0C578.5 255.5 577.5 259.4 577.2 262.7C576.9 266.0 577.1 269.9 577.7 273.0C578.3 276.1 579.2 278.5 580.8 281.5C582.3 284.5 584.8 287.9 587.0 290.8C589.2 293.7 592.2 296.5 594.3 299.1C596.4 301.7 598.5 304.9 599.5 306.4C600.5 307.9 599.9 307.7 600.0 308.0L600.0 317.6L717.9 317.6Z" fill="#ff960a"/>
<path d="M718.0 236.2C716.9 236.2 716.3 236.6 711.6 236.2C706.9 235.8 696.9 234.9 690.0 234.0C683.1 233.1 678.3 232.1 670.0 231.0C661.7 229.9 646.9 227.9 640.0 227.3C633.1 226.7 632.3 227.1 628.7 227.3C625.1 227.5 621.6 227.8 618.3 228.4C615.0 229.0 612.0 229.7 608.9 231.0C605.8 232.3 602.6 234.3 599.5 236.2C596.4 238.1 593.0 240.5 590.2 242.4C587.4 244.3 584.7 245.8 582.9 247.6C581.1 249.4 580.5 250.5 579.5 253.0C578.5 255.5 577.5 259.4 577.2 262.7C576.9 266.0 577.1 269.9 577.7 273.0C578.3 276.1 579.2 278.5 580.8 281.5C582.3 284.5 584.8 287.9 587.0 290.8C589.2 293.7 592.2 296.5 594.3 299.1C596.4 301.7 598.5 304.9 599.5 306.4C600.5 307.9 599.9 307.7 600.0 308.0" fill="none" stroke="#111" stroke-opacity="0.62" stroke-width="0.90"/>
<path d="M718.0 247.1C716.9 247.1 715.1 247.0 711.3 247.1C707.5 247.2 701.0 247.8 695.2 247.6C689.4 247.3 682.3 246.4 676.4 245.6C670.5 244.8 666.1 244.1 660.0 243.0C653.9 241.9 646.3 239.9 640.0 239.3C633.7 238.7 627.1 239.1 622.4 239.3C617.7 239.5 615.5 239.7 612.0 240.4C608.5 241.1 604.9 242.1 601.6 243.5C598.3 244.9 594.6 247.1 592.3 248.7C590.0 250.3 589.0 250.7 588.0 253.0C587.0 255.3 586.2 259.4 586.0 262.7C585.8 266.0 585.8 269.7 586.5 273.0C587.2 276.3 588.6 279.4 590.2 282.5C591.9 285.6 594.0 288.9 596.4 291.9C598.8 294.8 602.1 297.9 604.7 300.2C607.3 302.4 610.1 304.0 612.0 305.4C613.9 306.8 615.3 307.5 616.2 308.5C617.1 309.5 617.0 311.0 617.2 311.5L617.2 317.6L717.9 317.6Z" fill="#ff460a"/>
<path d="M718.0 247.1C716.9 247.1 715.1 247.0 711.3 247.1C707.5 247.2 701.0 247.8 695.2 247.6C689.4 247.3 682.3 246.4 676.4 245.6C670.5 244.8 666.1 244.1 660.0 243.0C653.9 241.9 646.3 239.9 640.0 239.3C633.7 238.7 627.1 239.1 622.4 239.3C617.7 239.5 615.5 239.7 612.0 240.4C608.5 241.1 604.9 242.1 601.6 243.5C598.3 244.9 594.6 247.1 592.3 248.7C590.0 250.3 589.0 250.7 588.0 253.0C587.0 255.3 586.2 259.4 586.0 262.7C585.8 266.0 585.8 269.7 586.5 273.0C587.2 276.3 588.6 279.4 590.2 282.5C591.9 285.6 594.0 288.9 596.4 291.9C598.8 294.8 602.1 297.9 604.7 300.2C607.3 302.4 610.1 304.0 612.0 305.4C613.9 306.8 615.3 307.5 616.2 308.5C617.1 309.5 617.0 311.0 617.2 311.5" fill="none" stroke="#111" stroke-opacity="0.62" stroke-width="0.90"/>
<path d="M623.5 316.0C623.5 315.2 623.9 313.3 623.5 311.5C623.1 309.7 623.0 307.3 621.4 305.4C619.8 303.5 616.9 302.4 614.1 300.2C611.3 297.9 607.3 294.7 604.7 291.9C602.1 289.1 600.2 286.6 598.5 283.5C596.8 280.4 595.2 276.5 594.3 273.0C593.4 269.5 593.1 266.0 593.3 262.7C593.5 259.4 594.0 255.9 595.4 253.4C596.8 250.9 599.7 249.0 601.6 247.6C603.5 246.2 603.3 245.4 606.8 245.0C610.3 244.6 616.9 245.1 622.4 245.3C627.9 245.5 634.5 245.5 640.0 246.3C645.5 247.1 650.4 248.7 655.6 250.2C660.8 251.7 667.3 253.9 671.2 255.4C675.1 256.9 676.4 257.6 679.0 259.0C681.6 260.4 684.6 262.6 686.8 263.8C689.0 265.0 690.1 265.0 692.0 266.0C693.9 267.0 696.4 268.6 698.3 270.0C700.2 271.4 702.9 272.9 703.5 274.2C704.1 275.5 702.5 276.8 702.0 278.0C701.5 279.2 701.4 280.7 700.4 281.5C699.4 282.3 697.4 282.3 696.0 283.0C694.6 283.7 693.5 284.4 692.0 285.6C690.5 286.8 688.7 288.8 687.0 290.0C685.3 291.2 683.4 291.7 681.6 292.9C679.8 294.1 677.7 295.8 676.0 297.0C674.3 298.2 672.9 299.1 671.2 300.2C669.5 301.3 667.7 302.6 666.0 303.5C664.3 304.4 663.0 304.7 660.8 305.4C658.5 306.1 653.0 307.1 652.5 307.5C652.0 307.9 656.1 307.6 658.0 308.0C659.9 308.4 662.7 309.0 664.0 309.6C665.3 310.2 665.7 310.4 666.0 311.5C666.3 312.6 666.0 315.2 666.0 316.0" fill="#f01400"/>
<path d="M623.5 316.0C623.5 315.2 623.9 313.3 623.5 311.5C623.1 309.7 623.0 307.3 621.4 305.4C619.8 303.5 616.9 302.4 614.1 300.2C611.3 297.9 607.3 294.7 604.7 291.9C602.1 289.1 600.2 286.6 598.5 283.5C596.8 280.4 595.2 276.5 594.3 273.0C593.4 269.5 593.1 266.0 593.3 262.7C593.5 259.4 594.0 255.9 595.4 253.4C596.8 250.9 599.7 249.0 601.6 247.6C603.5 246.2 603.3 245.4 606.8 245.0C610.3 244.6 616.9 245.1 622.4 245.3C627.9 245.5 634.5 245.5 640.0 246.3C645.5 247.1 650.4 248.7 655.6 250.2C660.8 251.7 667.3 253.9 671.2 255.4C675.1 256.9 676.4 257.6 679.0 259.0C681.6 260.4 684.6 262.6 686.8 263.8C689.0 265.0 690.1 265.0 692.0 266.0C693.9 267.0 696.4 268.6 698.3 270.0C700.2 271.4 702.9 272.9 703.5 274.2C704.1 275.5 702.5 276.8 702.0 278.0C701.5 279.2 701.4 280.7 700.4 281.5C699.4 282.3 697.4 282.3 696.0 283.0C694.6 283.7 693.5 284.4 692.0 285.6C690.5 286.8 688.7 288.8 687.0 290.0C685.3 291.2 683.4 291.7 681.6 292.9C679.8 294.1 677.7 295.8 676.0 297.0C674.3 298.2 672.9 299.1 671.2 300.2C669.5 301.3 667.7 302.6 666.0 303.5C664.3 304.4 663.0 304.7 660.8 305.4C658.5 306.1 653.0 307.1 652.5 307.5C652.0 307.9 656.1 307.6 658.0 308.0C659.9 308.4 662.7 309.0 664.0 309.6C665.3 310.2 665.7 310.4 666.0 311.5C666.3 312.6 666.0 315.2 666.0 316.0" fill="none" stroke="#111" stroke-opacity="0.62" stroke-width="0.90"/>
<path d="M610.3 249.9C611.2 250.1 611.9 251.3 612.4 252.5C612.9 253.7 612.6 256.5 613.4 257.2C614.2 257.9 615.4 257.1 617.0 256.6C618.6 256.1 620.9 254.2 623.3 254.0C625.7 253.8 628.8 254.2 631.6 255.1C634.4 256.0 637.1 257.6 639.9 259.2C642.7 260.8 646.0 263.2 648.3 265.0C650.6 266.8 652.2 268.3 653.5 270.2C654.8 272.1 655.9 274.1 656.1 276.4C656.4 278.6 655.8 281.4 655.0 283.7C654.2 285.9 652.9 288.0 651.4 289.9C649.9 291.8 648.3 293.5 646.2 295.1C644.1 296.7 641.3 298.5 638.9 299.3C636.5 300.1 634.0 300.2 631.6 299.8C629.2 299.4 626.5 298.0 624.3 296.7C622.0 295.4 620.4 292.9 618.1 292.0C615.9 291.1 612.9 291.5 610.8 291.0C608.7 290.5 607.0 290.5 605.6 288.9C604.2 287.3 603.5 284.2 602.5 281.6C601.5 279.0 600.2 276.1 599.9 273.3C599.6 270.5 600.3 267.6 600.9 265.0C601.5 262.4 602.5 260.0 603.5 257.7C604.5 255.4 606.1 252.7 607.2 251.4C608.3 250.1 609.4 249.7 610.3 249.9Z" fill="#a80000"/>
<path d="M610.3 249.9C611.2 250.1 611.9 251.3 612.4 252.5C612.9 253.7 612.6 256.5 613.4 257.2C614.2 257.9 615.4 257.1 617.0 256.6C618.6 256.1 620.9 254.2 623.3 254.0C625.7 253.8 628.8 254.2 631.6 255.1C634.4 256.0 637.1 257.6 639.9 259.2C642.7 260.8 646.0 263.2 648.3 265.0C650.6 266.8 652.2 268.3 653.5 270.2C654.8 272.1 655.9 274.1 656.1 276.4C656.4 278.6 655.8 281.4 655.0 283.7C654.2 285.9 652.9 288.0 651.4 289.9C649.9 291.8 648.3 293.5 646.2 295.1C644.1 296.7 641.3 298.5 638.9 299.3C636.5 300.1 634.0 300.2 631.6 299.8C629.2 299.4 626.5 298.0 624.3 296.7C622.0 295.4 620.4 292.9 618.1 292.0C615.9 291.1 612.9 291.5 610.8 291.0C608.7 290.5 607.0 290.5 605.6 288.9C604.2 287.3 603.5 284.2 602.5 281.6C601.5 279.0 600.2 276.1 599.9 273.3C599.6 270.5 600.3 267.6 600.9 265.0C601.5 262.4 602.5 260.0 603.5 257.7C604.5 255.4 606.1 252.7 607.2 251.4C608.3 250.1 609.4 249.7 610.3 249.9Z" fill="none" stroke="#111" stroke-opacity="0.62" stroke-width="0.90"/>
<path d="M469.4 307.4L483.4 303.5L491.2 298.0L500.5 290.3L511.4 282.5L519.2 277.0L525.5 278.6L533.2 287.1L541.0 295.7L545.7 301.2L544.5 306.0L544.5 316.0L485.0 316.0L485.0 309.0L476.0 308.3Z" fill="#00c3fa"/>
<path d="M469.4 307.4L483.4 303.5L491.2 298.0L500.5 290.3L511.4 282.5L519.2 277.0L525.5 278.6L533.2 287.1L541.0 295.7L545.7 301.2L544.5 306.0L544.5 316.0L485.0 316.0L485.0 309.0L476.0 308.3Z" fill="none" stroke="#111" stroke-opacity="0.62" stroke-width="0.90"/>
<path d="M504.4 307.4L513.0 305.0L516.9 299.6L519.2 302.7L518.4 306.6L518.4 316.0L512.0 316.0L509.0 308.5Z" fill="#0a78fa"/>
<path d="M504.4 307.4L513.0 305.0L516.9 299.6L519.2 302.7L518.4 306.6L518.4 316.0L512.0 316.0L509.0 308.5Z" fill="none" stroke="#111" stroke-opacity="0.62" stroke-width="0.90"/>
<circle cx="708.7" cy="276.3" r="2.6" fill="#f01400" stroke="#111" stroke-opacity=".6" stroke-width=".6"/>
<path d="M689 307L712 306.6L712 308L689 308.2Z" fill="#ffa014" stroke="#111" stroke-opacity=".5" stroke-width=".5"/>
<path d="M518.4 312L518.4 306.6L560 306.6L616.2 306.4L616.8 312Z" fill="#000"/>
</g>
<rect x="422.9" y="41.7" width="289.0" height="269.9" fill="none" stroke="#222" stroke-opacity="0.8" stroke-width="0.9"/>
<g clip-path="url(#cbl)">
<rect x="23.0" y="408.0" width="285.4" height="267.0" fill="#000090"/>
<path d="M17.0 467.0C18.1 467.0 19.8 467.3 23.6 467.0C27.4 466.7 33.9 465.7 40.0 465.0C46.1 464.3 53.3 463.7 60.0 463.0C66.7 462.3 73.3 461.7 80.0 461.0C86.7 460.3 93.3 459.7 100.0 459.0C106.7 458.3 113.3 457.8 120.0 457.0C126.7 456.2 133.3 455.0 140.0 454.0C146.7 453.0 154.3 451.8 160.0 451.0C165.7 450.2 168.3 449.6 174.0 449.0C179.7 448.4 187.3 447.9 194.0 447.6C200.7 447.3 207.3 447.1 214.0 447.0C220.7 446.9 227.3 446.9 234.0 447.0C240.7 447.1 247.3 447.4 254.0 447.6C260.7 447.8 267.3 447.9 274.0 448.0C280.7 448.1 288.3 448.1 294.0 448.0C299.7 447.9 304.6 447.7 308.0 447.6C311.4 447.5 313.3 447.6 314.4 447.6L314.4 681.0L17.0 681.0Z" fill="#0000d2"/>
<path d="M17.0 467.0C18.1 467.0 19.8 467.3 23.6 467.0C27.4 466.7 33.9 465.7 40.0 465.0C46.1 464.3 53.3 463.7 60.0 463.0C66.7 462.3 73.3 461.7 80.0 461.0C86.7 460.3 93.3 459.7 100.0 459.0C106.7 458.3 113.3 457.8 120.0 457.0C126.7 456.2 133.3 455.0 140.0 454.0C146.7 453.0 154.3 451.8 160.0 451.0C165.7 450.2 168.3 449.6 174.0 449.0C179.7 448.4 187.3 447.9 194.0 447.6C200.7 447.3 207.3 447.1 214.0 447.0C220.7 446.9 227.3 446.9 234.0 447.0C240.7 447.1 247.3 447.4 254.0 447.6C260.7 447.8 267.3 447.9 274.0 448.0C280.7 448.1 288.3 448.1 294.0 448.0C299.7 447.9 304.6 447.7 308.0 447.6C311.4 447.5 313.3 447.6 314.4 447.6" fill="none" stroke="#111" stroke-opacity="0.62" stroke-width="0.90"/>
<path d="M17.0 508.0C18.1 508.0 19.8 508.3 23.6 508.0C27.4 507.7 33.9 506.7 40.0 506.0C46.1 505.3 53.3 504.4 60.0 503.6C66.7 502.8 73.3 501.9 80.0 501.0C86.7 500.1 93.3 499.1 100.0 498.0C106.7 496.9 113.3 495.7 120.0 494.4C126.7 493.1 133.3 491.4 140.0 490.0C146.7 488.6 154.3 487.2 160.0 486.0C165.7 484.8 168.3 484.0 174.0 483.0C179.7 482.0 187.3 480.7 194.0 480.0C200.7 479.3 207.3 478.8 214.0 478.6C220.7 478.4 227.3 478.8 234.0 479.0C240.7 479.2 247.3 479.7 254.0 480.0C260.7 480.3 267.3 480.8 274.0 481.0C280.7 481.2 288.3 481.2 294.0 481.0C299.7 480.8 304.6 480.2 308.0 480.0C311.4 479.8 313.3 480.0 314.4 480.0L314.4 681.0L17.0 681.0Z" fill="#001cff"/>
<path d="M17.0 508.0C18.1 508.0 19.8 508.3 23.6 508.0C27.4 507.7 33.9 506.7 40.0 506.0C46.1 505.3 53.3 504.4 60.0 503.6C66.7 502.8 73.3 501.9 80.0 501.0C86.7 500.1 93.3 499.1 100.0 498.0C106.7 496.9 113.3 495.7 120.0 494.4C126.7 493.1 133.3 491.4 140.0 490.0C146.7 488.6 154.3 487.2 160.0 486.0C165.7 484.8 168.3 484.0 174.0 483.0C179.7 482.0 187.3 480.7 194.0 480.0C200.7 479.3 207.3 478.8 214.0 478.6C220.7 478.4 227.3 478.8 234.0 479.0C240.7 479.2 247.3 479.7 254.0 480.0C260.7 480.3 267.3 480.8 274.0 481.0C280.7 481.2 288.3 481.2 294.0 481.0C299.7 480.8 304.6 480.2 308.0 480.0C311.4 479.8 313.3 480.0 314.4 480.0" fill="none" stroke="#111" stroke-opacity="0.62" stroke-width="0.90"/>
<path d="M17.0 535.6C18.1 535.6 19.8 535.9 23.6 535.6C27.4 535.3 33.9 534.6 40.0 534.0C46.1 533.4 53.3 532.7 60.0 532.0C66.7 531.3 73.3 530.5 80.0 529.6C86.7 528.7 93.3 527.7 100.0 526.4C106.7 525.1 113.3 523.6 120.0 522.0C126.7 520.4 133.3 518.7 140.0 517.0C146.7 515.3 154.3 513.3 160.0 512.0C165.7 510.7 168.3 510.0 174.0 509.0C179.7 508.0 187.3 506.8 194.0 506.0C200.7 505.2 207.3 504.3 214.0 504.0C220.7 503.7 227.3 504.1 234.0 504.4C240.7 504.7 247.3 505.6 254.0 506.0C260.7 506.4 267.3 506.8 274.0 507.0C280.7 507.2 288.3 507.2 294.0 507.0C299.7 506.8 304.6 506.2 308.0 506.0C311.4 505.8 313.3 506.0 314.4 506.0L314.4 681.0L17.0 681.0Z" fill="#006cff"/>
<path d="M17.0 535.6C18.1 535.6 19.8 535.9 23.6 535.6C27.4 535.3 33.9 534.6 40.0 534.0C46.1 533.4 53.3 532.7 60.0 532.0C66.7 531.3 73.3 530.5 80.0 529.6C86.7 528.7 93.3 527.7 100.0 526.4C106.7 525.1 113.3 523.6 120.0 522.0C126.7 520.4 133.3 518.7 140.0 517.0C146.7 515.3 154.3 513.3 160.0 512.0C165.7 510.7 168.3 510.0 174.0 509.0C179.7 508.0 187.3 506.8 194.0 506.0C200.7 505.2 207.3 504.3 214.0 504.0C220.7 503.7 227.3 504.1 234.0 504.4C240.7 504.7 247.3 505.6 254.0 506.0C260.7 506.4 267.3 506.8 274.0 507.0C280.7 507.2 288.3 507.2 294.0 507.0C299.7 506.8 304.6 506.2 308.0 506.0C311.4 505.8 313.3 506.0 314.4 506.0" fill="none" stroke="#111" stroke-opacity="0.62" stroke-width="0.90"/>
<path d="M17.0 556.0C18.1 556.0 19.8 555.9 23.6 556.0C27.4 556.1 33.9 556.5 40.0 556.4C46.1 556.3 53.3 556.2 60.0 555.6C66.7 555.0 73.3 554.0 80.0 553.0C86.7 552.0 93.3 550.9 100.0 549.6C106.7 548.3 114.0 546.5 120.0 545.0C126.0 543.5 129.3 542.3 136.0 540.5C142.7 538.7 153.7 535.8 160.0 534.0C166.3 532.2 168.3 531.3 174.0 530.0C179.7 528.7 187.3 527.3 194.0 526.4C200.7 525.5 207.3 524.7 214.0 524.4C220.7 524.1 227.3 524.5 234.0 524.8C240.7 525.1 247.3 525.9 254.0 526.4C260.7 526.9 267.3 527.7 274.0 528.0C280.7 528.3 288.3 528.5 294.0 528.4C299.7 528.3 304.6 527.7 308.0 527.6C311.4 527.5 313.3 527.6 314.4 527.6L314.4 681.0L17.0 681.0Z" fill="#00c0ff"/>
<path d="M17.0 556.0C18.1 556.0 19.8 555.9 23.6 556.0C27.4 556.1 33.9 556.5 40.0 556.4C46.1 556.3 53.3 556.2 60.0 555.6C66.7 555.0 73.3 554.0 80.0 553.0C86.7 552.0 93.3 550.9 100.0 549.6C106.7 548.3 114.0 546.5 120.0 545.0C126.0 543.5 129.3 542.3 136.0 540.5C142.7 538.7 153.7 535.8 160.0 534.0C166.3 532.2 168.3 531.3 174.0 530.0C179.7 528.7 187.3 527.3 194.0 526.4C200.7 525.5 207.3 524.7 214.0 524.4C220.7 524.1 227.3 524.5 234.0 524.8C240.7 525.1 247.3 525.9 254.0 526.4C260.7 526.9 267.3 527.7 274.0 528.0C280.7 528.3 288.3 528.5 294.0 528.4C299.7 528.3 304.6 527.7 308.0 527.6C311.4 527.5 313.3 527.6 314.4 527.6" fill="none" stroke="#111" stroke-opacity="0.62" stroke-width="0.90"/>
<path d="M17.0 575.0C18.1 575.0 19.8 575.0 23.6 575.0C27.4 575.0 33.9 575.2 40.0 575.0C46.1 574.8 53.3 574.4 60.0 574.0C66.7 573.6 73.3 573.1 80.0 572.4C86.7 571.7 93.3 571.2 100.0 570.0C106.7 568.8 113.3 567.0 120.0 565.0C126.7 563.0 133.3 560.3 140.0 558.0C146.7 555.7 154.3 553.0 160.0 551.0C165.7 549.0 168.3 547.6 174.0 546.0C179.7 544.4 187.3 542.5 194.0 541.5C200.7 540.5 207.3 540.2 214.0 540.0C220.7 539.8 227.3 540.0 234.0 540.3C240.7 540.5 247.3 541.0 254.0 541.5C260.7 542.0 267.3 542.9 274.0 543.6C280.7 544.3 288.3 545.3 294.0 545.6C299.7 545.9 304.6 545.6 308.0 545.6C311.4 545.6 313.3 545.6 314.4 545.6L314.4 681.0L17.0 681.0Z" fill="#00fcff"/>
<path d="M17.0 575.0C18.1 575.0 19.8 575.0 23.6 575.0C27.4 575.0 33.9 575.2 40.0 575.0C46.1 574.8 53.3 574.4 60.0 574.0C66.7 573.6 73.3 573.1 80.0 572.4C86.7 571.7 93.3 571.2 100.0 570.0C106.7 568.8 113.3 567.0 120.0 565.0C126.7 563.0 133.3 560.3 140.0 558.0C146.7 555.7 154.3 553.0 160.0 551.0C165.7 549.0 168.3 547.6 174.0 546.0C179.7 544.4 187.3 542.5 194.0 541.5C200.7 540.5 207.3 540.2 214.0 540.0C220.7 539.8 227.3 540.0 234.0 540.3C240.7 540.5 247.3 541.0 254.0 541.5C260.7 542.0 267.3 542.9 274.0 543.6C280.7 544.3 288.3 545.3 294.0 545.6C299.7 545.9 304.6 545.6 308.0 545.6C311.4 545.6 313.3 545.6 314.4 545.6" fill="none" stroke="#111" stroke-opacity="0.62" stroke-width="0.90"/>
<path d="M17.0 590.0C18.1 590.0 19.8 590.0 23.6 590.0C27.4 590.0 33.9 590.0 40.0 590.0C46.1 590.0 53.3 590.2 60.0 590.0C66.7 589.8 73.3 589.5 80.0 589.0C86.7 588.5 93.3 588.2 100.0 587.0C106.7 585.8 113.3 584.2 120.0 582.0C126.7 579.8 133.3 576.8 140.0 574.0C146.7 571.2 154.3 567.5 160.0 565.0C165.7 562.5 168.3 560.8 174.0 559.0C179.7 557.2 187.3 555.3 194.0 554.4C200.7 553.5 207.3 553.5 214.0 553.6C220.7 553.7 227.3 554.3 234.0 555.0C240.7 555.7 247.3 556.8 254.0 557.6C260.7 558.4 267.3 559.4 274.0 560.0C280.7 560.6 288.3 561.0 294.0 561.2C299.7 561.4 304.6 561.0 308.0 561.0C311.4 561.0 313.3 561.0 314.4 561.0L314.4 681.0L17.0 681.0Z" fill="#4dffb4"/>
<path d="M17.0 590.0C18.1 590.0 19.8 590.0 23.6 590.0C27.4 590.0 33.9 590.0 40.0 590.0C46.1 590.0 53.3 590.2 60.0 590.0C66.7 589.8 73.3 589.5 80.0 589.0C86.7 588.5 93.3 588.2 100.0 587.0C106.7 585.8 113.3 584.2 120.0 582.0C126.7 579.8 133.3 576.8 140.0 574.0C146.7 571.2 154.3 567.5 160.0 565.0C165.7 562.5 168.3 560.8 174.0 559.0C179.7 557.2 187.3 555.3 194.0 554.4C200.7 553.5 207.3 553.5 214.0 553.6C220.7 553.7 227.3 554.3 234.0 555.0C240.7 555.7 247.3 556.8 254.0 557.6C260.7 558.4 267.3 559.4 274.0 560.0C280.7 560.6 288.3 561.0 294.0 561.2C299.7 561.4 304.6 561.0 308.0 561.0C311.4 561.0 313.3 561.0 314.4 561.0" fill="none" stroke="#111" stroke-opacity="0.62" stroke-width="0.90"/>
<path d="M17.0 604.0C18.1 604.0 19.8 604.0 23.6 604.0C27.4 604.0 33.9 604.0 40.0 604.0C46.1 604.0 53.3 604.0 60.0 604.0C66.7 604.0 73.3 604.1 80.0 604.0C86.7 603.9 93.3 604.4 100.0 603.6C106.7 602.8 113.3 601.3 120.0 599.0C126.7 596.7 133.3 593.3 140.0 590.0C146.7 586.7 154.3 582.0 160.0 579.0C165.7 576.0 168.3 573.9 174.0 572.0C179.7 570.1 187.3 568.4 194.0 567.6C200.7 566.8 207.3 566.8 214.0 567.0C220.7 567.2 227.3 568.2 234.0 569.0C240.7 569.8 247.3 571.1 254.0 572.0C260.7 572.9 267.3 573.7 274.0 574.4C280.7 575.1 288.3 575.7 294.0 576.0C299.7 576.3 304.6 576.0 308.0 576.0C311.4 576.0 313.3 576.0 314.4 576.0L314.4 681.0L17.0 681.0Z" fill="#9cff62"/>
<path d="M17.0 604.0C18.1 604.0 19.8 604.0 23.6 604.0C27.4 604.0 33.9 604.0 40.0 604.0C46.1 604.0 53.3 604.0 60.0 604.0C66.7 604.0 73.3 604.1 80.0 604.0C86.7 603.9 93.3 604.4 100.0 603.6C106.7 602.8 113.3 601.3 120.0 599.0C126.7 596.7 133.3 593.3 140.0 590.0C146.7 586.7 154.3 582.0 160.0 579.0C165.7 576.0 168.3 573.9 174.0 572.0C179.7 570.1 187.3 568.4 194.0 567.6C200.7 566.8 207.3 566.8 214.0 567.0C220.7 567.2 227.3 568.2 234.0 569.0C240.7 569.8 247.3 571.1 254.0 572.0C260.7 572.9 267.3 573.7 274.0 574.4C280.7 575.1 288.3 575.7 294.0 576.0C299.7 576.3 304.6 576.0 308.0 576.0C311.4 576.0 313.3 576.0 314.4 576.0" fill="none" stroke="#111" stroke-opacity="0.62" stroke-width="0.90"/>
<path d="M17.0 620.0C18.1 620.0 19.8 619.8 23.6 620.0C27.4 620.2 33.9 620.7 40.0 621.0C46.1 621.3 54.0 621.1 60.0 621.6C66.0 622.1 71.0 623.2 76.0 624.0C81.0 624.8 85.3 626.4 90.0 626.4C94.7 626.4 99.0 625.4 104.0 624.0C109.0 622.6 114.0 621.3 120.0 618.0C126.0 614.7 133.3 608.7 140.0 604.0C146.7 599.3 154.3 593.5 160.0 590.0C165.7 586.5 168.3 584.8 174.0 583.0C179.7 581.2 187.3 579.8 194.0 579.0C200.7 578.2 207.3 578.1 214.0 578.4C220.7 578.7 227.3 580.0 234.0 581.0C240.7 582.0 247.3 583.3 254.0 584.4C260.7 585.5 267.3 586.8 274.0 587.6C280.7 588.4 288.3 588.8 294.0 589.0C299.7 589.2 304.6 589.0 308.0 589.0C311.4 589.0 313.3 589.0 314.4 589.0L314.4 681.0L17.0 681.0Z" fill="#f5ff14"/>
<path d="M17.0 620.0C18.1 620.0 19.8 619.8 23.6 620.0C27.4 620.2 33.9 620.7 40.0 621.0C46.1 621.3 54.0 621.1 60.0 621.6C66.0 622.1 71.0 623.2 76.0 624.0C81.0 624.8 85.3 626.4 90.0 626.4C94.7 626.4 99.0 625.4 104.0 624.0C109.0 622.6 114.0 621.3 120.0 618.0C126.0 614.7 133.3 608.7 140.0 604.0C146.7 599.3 154.3 593.5 160.0 590.0C165.7 586.5 168.3 584.8 174.0 583.0C179.7 581.2 187.3 579.8 194.0 579.0C200.7 578.2 207.3 578.1 214.0 578.4C220.7 578.7 227.3 580.0 234.0 581.0C240.7 582.0 247.3 583.3 254.0 584.4C260.7 585.5 267.3 586.8 274.0 587.6C280.7 588.4 288.3 588.8 294.0 589.0C299.7 589.2 304.6 589.0 308.0 589.0C311.4 589.0 313.3 589.0 314.4 589.0" fill="none" stroke="#111" stroke-opacity="0.62" stroke-width="0.90"/>
<path d="M17.0 640.0C18.1 640.0 19.8 640.1 23.6 640.0C27.4 639.9 33.9 639.8 40.0 639.6C46.1 639.4 54.0 639.6 60.0 639.0C66.0 638.4 71.3 636.8 76.0 636.0C80.7 635.2 84.0 634.3 88.0 634.4C92.0 634.5 96.5 635.4 100.0 636.8C103.5 638.2 106.3 639.9 109.0 642.7C111.7 645.5 114.7 650.0 116.4 653.6C118.1 657.2 118.0 661.6 119.0 664.5C120.0 667.4 121.9 668.4 122.7 671.0C123.5 673.6 123.8 678.5 124.0 680.0L17.0 680.0Z" fill="#9cff62"/>
<path d="M17.0 640.0C18.1 640.0 19.8 640.1 23.6 640.0C27.4 639.9 33.9 639.8 40.0 639.6C46.1 639.4 54.0 639.6 60.0 639.0C66.0 638.4 71.3 636.8 76.0 636.0C80.7 635.2 84.0 634.3 88.0 634.4C92.0 634.5 96.5 635.4 100.0 636.8C103.5 638.2 106.3 639.9 109.0 642.7C111.7 645.5 114.7 650.0 116.4 653.6C118.1 657.2 118.0 661.6 119.0 664.5C120.0 667.4 121.9 668.4 122.7 671.0C123.5 673.6 123.8 678.5 124.0 680.0" fill="none" stroke="#111" stroke-opacity="0.62" stroke-width="0.90"/>
<path d="M17.0 662.0C18.1 662.0 19.8 661.9 23.6 662.0C27.4 662.1 33.9 662.4 40.0 662.4C46.1 662.4 53.3 662.2 60.0 662.0C66.7 661.8 74.0 660.8 80.0 661.0C86.0 661.2 92.0 662.0 96.0 663.0C100.0 664.0 102.1 665.1 104.0 667.0C105.9 668.9 106.7 672.3 107.3 674.5C107.9 676.7 107.5 679.1 107.5 680.0L17.0 680.0Z" fill="#4dffb4"/>
<path d="M17.0 662.0C18.1 662.0 19.8 661.9 23.6 662.0C27.4 662.1 33.9 662.4 40.0 662.4C46.1 662.4 53.3 662.2 60.0 662.0C66.7 661.8 74.0 660.8 80.0 661.0C86.0 661.2 92.0 662.0 96.0 663.0C100.0 664.0 102.1 665.1 104.0 667.0C105.9 668.9 106.7 672.3 107.3 674.5C107.9 676.7 107.5 679.1 107.5 680.0" fill="none" stroke="#111" stroke-opacity="0.62" stroke-width="0.90"/>
<path d="M314.0 601.6C313.0 601.6 311.3 601.5 308.0 601.6C304.7 601.7 299.7 602.3 294.0 602.0C288.3 601.7 280.7 601.0 274.0 600.0C267.3 599.0 260.7 597.4 254.0 596.0C247.3 594.6 240.7 592.9 234.0 591.6C227.3 590.3 220.7 588.7 214.0 588.4C207.3 588.1 200.7 588.6 194.0 590.0C187.3 591.4 179.7 594.3 174.0 597.0C168.3 599.7 165.0 602.2 160.0 606.0C155.0 609.8 148.3 615.7 144.0 620.0C139.7 624.3 136.3 628.5 134.0 632.0C131.7 635.5 130.8 637.4 130.0 641.0C129.2 644.6 128.6 649.8 129.0 653.6C129.4 657.4 130.6 661.0 132.7 663.6C134.8 666.2 138.5 667.7 141.8 669.0C145.1 670.3 149.7 670.8 152.7 671.3C155.7 671.8 158.8 671.9 160.0 672.0L160.0 680.0L314.0 680.0Z" fill="#ffc80a"/>
<path d="M314.0 601.6C313.0 601.6 311.3 601.5 308.0 601.6C304.7 601.7 299.7 602.3 294.0 602.0C288.3 601.7 280.7 601.0 274.0 600.0C267.3 599.0 260.7 597.4 254.0 596.0C247.3 594.6 240.7 592.9 234.0 591.6C227.3 590.3 220.7 588.7 214.0 588.4C207.3 588.1 200.7 588.6 194.0 590.0C187.3 591.4 179.7 594.3 174.0 597.0C168.3 599.7 165.0 602.2 160.0 606.0C155.0 609.8 148.3 615.7 144.0 620.0C139.7 624.3 136.3 628.5 134.0 632.0C131.7 635.5 130.8 637.4 130.0 641.0C129.2 644.6 128.6 649.8 129.0 653.6C129.4 657.4 130.6 661.0 132.7 663.6C134.8 666.2 138.5 667.7 141.8 669.0C145.1 670.3 149.7 670.8 152.7 671.3C155.7 671.8 158.8 671.9 160.0 672.0" fill="none" stroke="#111" stroke-opacity="0.62" stroke-width="0.90"/>
<path d="M314.0 612.4C313.0 612.4 311.3 612.3 308.0 612.4C304.7 612.5 299.7 613.3 294.0 613.0C288.3 612.7 280.7 611.7 274.0 610.4C267.3 609.1 260.7 606.7 254.0 605.0C247.3 603.3 240.7 601.3 234.0 600.0C227.3 598.7 220.7 597.6 214.0 597.4C207.3 597.2 200.7 597.6 194.0 599.0C187.3 600.4 179.7 603.2 174.0 606.0C168.3 608.8 164.0 612.3 160.0 616.0C156.0 619.7 152.6 623.8 150.0 628.0C147.4 632.2 145.4 637.3 144.5 641.0C143.6 644.7 143.8 647.0 144.5 650.0C145.2 653.0 146.8 656.6 149.0 659.0C151.2 661.4 154.1 663.1 158.0 664.5C161.9 665.9 167.2 666.7 172.7 667.3C178.2 667.9 184.9 667.7 191.0 668.0C197.1 668.3 205.2 668.3 209.0 669.0C212.8 669.7 212.8 671.5 213.6 672.0L213.6 680.0L314.0 680.0Z" fill="#ff7e0a"/>
<path d="M314.0 612.4C313.0 612.4 311.3 612.3 308.0 612.4C304.7 612.5 299.7 613.3 294.0 613.0C288.3 612.7 280.7 611.7 274.0 610.4C267.3 609.1 260.7 606.7 254.0 605.0C247.3 603.3 240.7 601.3 234.0 600.0C227.3 598.7 220.7 597.6 214.0 597.4C207.3 597.2 200.7 597.6 194.0 599.0C187.3 600.4 179.7 603.2 174.0 606.0C168.3 608.8 164.0 612.3 160.0 616.0C156.0 619.7 152.6 623.8 150.0 628.0C147.4 632.2 145.4 637.3 144.5 641.0C143.6 644.7 143.8 647.0 144.5 650.0C145.2 653.0 146.8 656.6 149.0 659.0C151.2 661.4 154.1 663.1 158.0 664.5C161.9 665.9 167.2 666.7 172.7 667.3C178.2 667.9 184.9 667.7 191.0 668.0C197.1 668.3 205.2 668.3 209.0 669.0C212.8 669.7 212.8 671.5 213.6 672.0" fill="none" stroke="#111" stroke-opacity="0.62" stroke-width="0.90"/>
<path d="M249.0 680.0C249.0 679.1 248.5 676.7 249.0 674.4C249.5 672.1 250.2 668.7 252.0 666.0C253.8 663.3 256.7 661.0 260.0 658.0C263.3 655.0 268.8 651.3 272.0 648.0C275.2 644.7 278.0 641.0 279.0 638.0C280.0 635.0 279.8 632.7 278.0 630.0C276.2 627.3 272.0 624.5 268.0 622.0C264.0 619.5 259.7 617.2 254.0 615.0C248.3 612.8 240.7 610.4 234.0 609.0C227.3 607.6 220.0 606.7 214.0 606.4C208.0 606.1 203.0 606.2 198.0 607.0C193.0 607.8 188.0 609.0 184.0 611.0C180.0 613.0 177.3 615.8 174.0 619.0C170.7 622.2 166.4 626.5 164.0 630.0C161.6 633.5 160.0 637.0 159.5 640.0C159.0 643.0 159.7 645.4 161.0 648.0C162.3 650.6 164.4 653.5 167.3 655.5C170.2 657.5 174.2 658.9 178.2 660.0C182.1 661.1 186.8 661.8 191.0 662.4C195.2 663.0 200.3 662.9 203.6 663.6C206.9 664.3 209.0 664.9 211.0 666.4C213.0 667.9 214.6 670.4 215.5 672.7C216.4 675.0 216.2 678.8 216.4 680.0" fill="#ff320a"/>
<path d="M249.0 680.0C249.0 679.1 248.5 676.7 249.0 674.4C249.5 672.1 250.2 668.7 252.0 666.0C253.8 663.3 256.7 661.0 260.0 658.0C263.3 655.0 268.8 651.3 272.0 648.0C275.2 644.7 278.0 641.0 279.0 638.0C280.0 635.0 279.8 632.7 278.0 630.0C276.2 627.3 272.0 624.5 268.0 622.0C264.0 619.5 259.7 617.2 254.0 615.0C248.3 612.8 240.7 610.4 234.0 609.0C227.3 607.6 220.0 606.7 214.0 606.4C208.0 606.1 203.0 606.2 198.0 607.0C193.0 607.8 188.0 609.0 184.0 611.0C180.0 613.0 177.3 615.8 174.0 619.0C170.7 622.2 166.4 626.5 164.0 630.0C161.6 633.5 160.0 637.0 159.5 640.0C159.0 643.0 159.7 645.4 161.0 648.0C162.3 650.6 164.4 653.5 167.3 655.5C170.2 657.5 174.2 658.9 178.2 660.0C182.1 661.1 186.8 661.8 191.0 662.4C195.2 663.0 200.3 662.9 203.6 663.6C206.9 664.3 209.0 664.9 211.0 666.4C213.0 667.9 214.6 670.4 215.5 672.7C216.4 675.0 216.2 678.8 216.4 680.0" fill="none" stroke="#111" stroke-opacity="0.62" stroke-width="0.90"/>
<path d="M177.0 636.0C177.0 632.9 178.2 628.8 180.0 626.0C181.8 623.2 184.7 620.7 188.0 619.0C191.3 617.3 195.7 616.2 200.0 615.6C204.3 615.0 209.3 615.2 214.0 615.6C218.7 616.0 223.7 616.6 228.0 618.0C232.3 619.4 236.8 621.7 240.0 624.0C243.2 626.3 245.7 629.3 247.0 632.0C248.3 634.7 248.5 637.0 248.0 640.0C247.5 643.0 245.7 647.0 244.0 650.0C242.3 653.0 239.9 655.9 238.0 658.0C236.1 660.1 234.8 661.5 232.7 662.7C230.6 664.0 227.9 665.5 225.5 665.5C223.1 665.5 220.9 664.1 218.2 662.7C215.4 661.3 212.3 658.8 209.0 657.3C205.7 655.8 201.8 654.8 198.2 653.6C194.6 652.4 190.3 651.5 187.3 650.0C184.3 648.5 181.7 646.8 180.0 644.5C178.3 642.2 177.0 639.1 177.0 636.0Z" fill="#dc0000"/>
<path d="M177.0 636.0C177.0 632.9 178.2 628.8 180.0 626.0C181.8 623.2 184.7 620.7 188.0 619.0C191.3 617.3 195.7 616.2 200.0 615.6C204.3 615.0 209.3 615.2 214.0 615.6C218.7 616.0 223.7 616.6 228.0 618.0C232.3 619.4 236.8 621.7 240.0 624.0C243.2 626.3 245.7 629.3 247.0 632.0C248.3 634.7 248.5 637.0 248.0 640.0C247.5 643.0 245.7 647.0 244.0 650.0C242.3 653.0 239.9 655.9 238.0 658.0C236.1 660.1 234.8 661.5 232.7 662.7C230.6 664.0 227.9 665.5 225.5 665.5C223.1 665.5 220.9 664.1 218.2 662.7C215.4 661.3 212.3 658.8 209.0 657.3C205.7 655.8 201.8 654.8 198.2 653.6C194.6 652.4 190.3 651.5 187.3 650.0C184.3 648.5 181.7 646.8 180.0 644.5C178.3 642.2 177.0 639.1 177.0 636.0Z" fill="none" stroke="#111" stroke-opacity="0.62" stroke-width="0.90"/>
<path d="M273.0 680.0C273.0 679.1 272.5 676.4 273.0 674.4C273.5 672.4 274.2 670.1 276.0 668.0C277.8 665.9 281.0 663.5 284.0 662.0C287.0 660.5 290.0 659.7 294.0 659.0C298.0 658.3 304.7 658.2 308.0 658.0C311.3 657.8 313.0 658.0 314.0 658.0L314.0 680.0Z" fill="#ffc80a"/>
<path d="M273.0 680.0C273.0 679.1 272.5 676.4 273.0 674.4C273.5 672.4 274.2 670.1 276.0 668.0C277.8 665.9 281.0 663.5 284.0 662.0C287.0 660.5 290.0 659.7 294.0 659.0C298.0 658.3 304.7 658.2 308.0 658.0C311.3 657.8 313.0 658.0 314.0 658.0" fill="none" stroke="#111" stroke-opacity="0.62" stroke-width="0.90"/>
<path d="M115.5 675L118 671.6L213 671.6L215 675Z" fill="#000"/>
</g>
<rect x="23.0" y="408.0" width="285.4" height="267.0" fill="none" stroke="#222" stroke-opacity="0.8" stroke-width="0.9"/>
<g clip-path="url(#cbr)">
<rect x="426.8" y="404.5" width="283.5" height="265.5" fill="#000090"/>
<path d="M420.8 524.6C421.8 524.6 423.1 524.9 427.0 524.6C430.9 524.3 437.8 523.5 444.0 523.0C450.2 522.5 457.3 522.1 464.0 521.4C470.7 520.7 477.3 519.9 484.0 519.0C490.7 518.1 497.3 517.3 504.0 516.0C510.7 514.7 517.3 512.7 524.0 511.0C530.7 509.3 537.3 507.6 544.0 506.0C550.7 504.4 558.3 502.7 564.0 501.4C569.7 500.1 572.3 499.4 578.0 498.4C583.7 497.4 591.3 496.1 598.0 495.4C604.7 494.7 611.3 494.5 618.0 494.4C624.7 494.3 631.3 494.4 638.0 494.6C644.7 494.8 651.3 495.3 658.0 495.6C664.7 495.9 671.3 496.4 678.0 496.6C684.7 496.8 692.7 496.9 698.0 497.0C703.3 497.1 707.0 497.0 710.0 497.0C713.0 497.0 715.2 497.0 716.3 497.0L716.3 676.0L420.8 676.0Z" fill="#0058ff"/>
<path d="M420.8 524.6C421.8 524.6 423.1 524.9 427.0 524.6C430.9 524.3 437.8 523.5 444.0 523.0C450.2 522.5 457.3 522.1 464.0 521.4C470.7 520.7 477.3 519.9 484.0 519.0C490.7 518.1 497.3 517.3 504.0 516.0C510.7 514.7 517.3 512.7 524.0 511.0C530.7 509.3 537.3 507.6 544.0 506.0C550.7 504.4 558.3 502.7 564.0 501.4C569.7 500.1 572.3 499.4 578.0 498.4C583.7 497.4 591.3 496.1 598.0 495.4C604.7 494.7 611.3 494.5 618.0 494.4C624.7 494.3 631.3 494.4 638.0 494.6C644.7 494.8 651.3 495.3 658.0 495.6C664.7 495.9 671.3 496.4 678.0 496.6C684.7 496.8 692.7 496.9 698.0 497.0C703.3 497.1 707.0 497.0 710.0 497.0C713.0 497.0 715.2 497.0 716.3 497.0" fill="none" stroke="#111" stroke-opacity="0.62" stroke-width="0.90"/>
<path d="M420.8 577.4C421.8 577.4 423.1 577.5 427.0 577.4C430.9 577.3 437.8 577.2 444.0 577.0C450.2 576.8 457.3 576.3 464.0 576.0C470.7 575.7 477.3 575.5 484.0 575.0C490.7 574.5 498.0 573.8 504.0 573.0C510.0 572.2 514.7 571.3 520.0 570.0C525.3 568.7 530.7 567.0 536.0 565.0C541.3 563.0 546.7 560.2 552.0 558.0C557.3 555.8 563.7 553.5 568.0 552.0C572.3 550.5 573.7 550.2 578.0 549.0C582.3 547.8 588.7 545.9 594.0 545.0C599.3 544.1 604.0 543.6 610.0 543.4C616.0 543.2 623.3 543.6 630.0 544.0C636.7 544.4 643.3 545.3 650.0 546.0C656.7 546.7 663.3 547.4 670.0 548.0C676.7 548.6 683.3 549.2 690.0 549.4C696.7 549.6 705.6 549.4 710.0 549.4C714.4 549.4 715.2 549.4 716.3 549.4L716.3 676.0L420.8 676.0Z" fill="#2cfad2"/>
<path d="M420.8 577.4C421.8 577.4 423.1 577.5 427.0 577.4C430.9 577.3 437.8 577.2 444.0 577.0C450.2 576.8 457.3 576.3 464.0 576.0C470.7 575.7 477.3 575.5 484.0 575.0C490.7 574.5 498.0 573.8 504.0 573.0C510.0 572.2 514.7 571.3 520.0 570.0C525.3 568.7 530.7 567.0 536.0 565.0C541.3 563.0 546.7 560.2 552.0 558.0C557.3 555.8 563.7 553.5 568.0 552.0C572.3 550.5 573.7 550.2 578.0 549.0C582.3 547.8 588.7 545.9 594.0 545.0C599.3 544.1 604.0 543.6 610.0 543.4C616.0 543.2 623.3 543.6 630.0 544.0C636.7 544.4 643.3 545.3 650.0 546.0C656.7 546.7 663.3 547.4 670.0 548.0C676.7 548.6 683.3 549.2 690.0 549.4C696.7 549.6 705.6 549.4 710.0 549.4C714.4 549.4 715.2 549.4 716.3 549.4" fill="none" stroke="#111" stroke-opacity="0.62" stroke-width="0.90"/>
<path d="M421.0 604.6L424.0 605.3L427.0 604.6L430.4 605.5L433.8 604.2L437.2 604.4L440.6 605.8L444.0 605.4L447.3 605.8L450.7 605.7L454.0 605.2L457.3 605.7L460.7 605.7L464.0 605.6L467.3 605.8L470.7 605.2L474.0 605.7L477.3 605.7L480.7 606.3L484.0 606.0L487.3 606.9L490.7 606.9L494.0 606.3L497.3 606.2L500.7 606.0L504.0 606.4L507.5 605.8L511.0 605.9L514.5 606.8L518.0 607.0L523.0 610.0L526.0 606.0C527.7 605.4 532.3 603.8 536.0 602.6C539.7 601.4 544.3 600.6 548.0 599.0C551.7 597.4 554.7 594.8 558.0 593.0C561.3 591.2 564.7 589.7 568.0 588.0C571.3 586.3 573.7 584.7 578.0 583.0C582.3 581.3 588.7 579.2 594.0 578.0C599.3 576.8 604.7 576.3 610.0 576.0C615.3 575.7 620.7 575.9 626.0 576.4C631.3 576.9 636.7 578.0 642.0 579.0C647.3 580.0 652.0 581.4 658.0 582.6C664.0 583.8 671.3 585.2 678.0 586.0C684.7 586.8 692.7 587.2 698.0 587.4C703.3 587.6 707.0 587.4 710.0 587.4C713.0 587.4 715.0 587.4 716.0 587.4L716.3 676.0L420.8 676.0Z" fill="#faff14"/>
<path d="M421.0 604.6L424.0 605.3L427.0 604.6L430.4 605.5L433.8 604.2L437.2 604.4L440.6 605.8L444.0 605.4L447.3 605.8L450.7 605.7L454.0 605.2L457.3 605.7L460.7 605.7L464.0 605.6L467.3 605.8L470.7 605.2L474.0 605.7L477.3 605.7L480.7 606.3L484.0 606.0L487.3 606.9L490.7 606.9L494.0 606.3L497.3 606.2L500.7 606.0L504.0 606.4L507.5 605.8L511.0 605.9L514.5 606.8L518.0 607.0L523.0 610.0L526.0 606.0C527.7 605.4 532.3 603.8 536.0 602.6C539.7 601.4 544.3 600.6 548.0 599.0C551.7 597.4 554.7 594.8 558.0 593.0C561.3 591.2 564.7 589.7 568.0 588.0C571.3 586.3 573.7 584.7 578.0 583.0C582.3 581.3 588.7 579.2 594.0 578.0C599.3 576.8 604.7 576.3 610.0 576.0C615.3 575.7 620.7 575.9 626.0 576.4C631.3 576.9 636.7 578.0 642.0 579.0C647.3 580.0 652.0 581.4 658.0 582.6C664.0 583.8 671.3 585.2 678.0 586.0C684.7 586.8 692.7 587.2 698.0 587.4C703.3 587.6 707.0 587.4 710.0 587.4C713.0 587.4 715.0 587.4 716.0 587.4" fill="none" stroke="#111" stroke-opacity="0.62" stroke-width="0.90"/>
<path d="M421.0 644.6L424.0 644.1L427.0 644.6L430.5 644.4L434.0 644.0L438.1 645.5L442.0 647.4L446.1 645.9L450.0 644.0L453.3 645.2L456.9 645.3L460.0 647.0L463.1 645.3L466.8 646.0L470.0 644.6L473.5 643.8L476.9 643.3L480.6 644.3L484.0 643.0L487.2 642.9L490.4 643.6L493.6 643.0L496.8 643.3L500.0 643.0L503.5 642.1L507.0 642.7L510.5 642.9L514.0 642.0L520.0 646.0L521.6 655.0L520.4 663.0L521.0 669.4L521.0 676.0L421.0 676.0Z" fill="#2cfad2"/>
<path d="M421.0 644.6L424.0 644.1L427.0 644.6L430.5 644.4L434.0 644.0L438.1 645.5L442.0 647.4L446.1 645.9L450.0 644.0L453.3 645.2L456.9 645.3L460.0 647.0L463.1 645.3L466.8 646.0L470.0 644.6L473.5 643.8L476.9 643.3L480.6 644.3L484.0 643.0L487.2 642.9L490.4 643.6L493.6 643.0L496.8 643.3L500.0 643.0L503.5 642.1L507.0 642.7L510.5 642.9L514.0 642.0L520.0 646.0L521.6 655.0L520.4 663.0L521.0 669.4L521.0 676.0" fill="none" stroke="#111" stroke-opacity="0.62" stroke-width="0.90"/>
<path d="M521.0 663.0C522.8 662.7 528.5 662.0 532.0 661.0C535.5 660.0 539.7 659.3 542.0 657.0C544.3 654.7 544.7 651.0 546.0 647.0C547.3 643.0 548.0 637.7 550.0 633.0C552.0 628.3 555.0 623.2 558.0 619.0C561.0 614.8 564.7 610.8 568.0 608.0C571.3 605.2 573.7 603.2 578.0 602.0C582.3 600.8 587.3 600.9 594.0 600.6C600.7 600.3 610.0 600.0 618.0 600.0C626.0 600.0 635.3 600.1 642.0 600.6C648.7 601.1 652.7 602.1 658.0 603.0C663.3 603.9 668.7 605.2 674.0 606.0C679.3 606.8 684.0 607.6 690.0 608.0C696.0 608.4 705.7 608.5 710.0 608.6C714.3 608.7 715.0 608.6 716.0 608.6L716 644C715.0 644.0 713.0 643.8 710.0 644.0C707.0 644.2 702.0 644.3 698.0 645.0C694.0 645.7 690.0 646.7 686.0 648.0C682.0 649.3 678.0 651.5 674.0 653.0C670.0 654.5 666.0 655.7 662.0 657.0C658.0 658.3 654.0 659.7 650.0 661.0C646.0 662.3 641.0 664.1 638.0 665.0C635.0 665.9 631.7 666.0 632.0 666.3C632.3 666.6 636.7 666.8 640.0 667.0C643.3 667.2 649.8 666.1 652.0 667.6C654.2 669.1 652.8 674.6 653.0 676.0L521 676Z" fill="#ff320a"/>
<path d="M521.0 663.0C522.8 662.7 528.5 662.0 532.0 661.0C535.5 660.0 539.7 659.3 542.0 657.0C544.3 654.7 544.7 651.0 546.0 647.0C547.3 643.0 548.0 637.7 550.0 633.0C552.0 628.3 555.0 623.2 558.0 619.0C561.0 614.8 564.7 610.8 568.0 608.0C571.3 605.2 573.7 603.2 578.0 602.0C582.3 600.8 587.3 600.9 594.0 600.6C600.7 600.3 610.0 600.0 618.0 600.0C626.0 600.0 635.3 600.1 642.0 600.6C648.7 601.1 652.7 602.1 658.0 603.0C663.3 603.9 668.7 605.2 674.0 606.0C679.3 606.8 684.0 607.6 690.0 608.0C696.0 608.4 705.7 608.5 710.0 608.6C714.3 608.7 715.0 608.6 716.0 608.6M716.0 644.0C715.0 644.0 713.0 643.8 710.0 644.0C707.0 644.2 702.0 644.3 698.0 645.0C694.0 645.7 690.0 646.7 686.0 648.0C682.0 649.3 678.0 651.5 674.0 653.0C670.0 654.5 666.0 655.7 662.0 657.0C658.0 658.3 654.0 659.7 650.0 661.0C646.0 662.3 641.0 664.1 638.0 665.0C635.0 665.9 631.7 666.0 632.0 666.3C632.3 666.6 636.7 666.8 640.0 667.0C643.3 667.2 649.8 666.1 652.0 667.6C654.2 669.1 652.8 674.6 653.0 676.0" fill="none" stroke="#111" stroke-opacity="0.62" stroke-width="0.90"/>
<path d="M584.0 633.0L584.5 630.3L584.9 627.7L585.0 625.0L586.9 622.5L588.7 619.9L590.0 617.0L592.8 615.9L595.5 614.7L598.0 613.0L601.3 611.4L605.0 610.6L607.5 612.8L610.0 615.0L611.6 618.2L614.0 621.0L616.1 618.1L618.0 615.0L621.2 613.9L624.0 612.0L627.2 613.2L630.0 615.0L632.0 618.0L634.0 621.0L635.5 624.4L636.6 628.0L635.8 631.5L635.0 635.0L633.6 637.6L632.8 640.6L631.0 643.0L628.7 645.7L626.0 648.0L623.1 649.7L620.0 651.0L617.3 652.1L615.0 654.0L612.6 652.8L610.0 652.0L607.3 652.0L604.7 651.0L602.0 651.0L599.2 650.3L596.7 648.9L594.0 648.0L591.8 646.6L589.7 645.0L588.0 643.0L586.3 639.8L584.0 637.0Z" fill="#7a0a0a"/>
<path d="M584.0 633.0L584.5 630.3L584.9 627.7L585.0 625.0L586.9 622.5L588.7 619.9L590.0 617.0L592.8 615.9L595.5 614.7L598.0 613.0L601.3 611.4L605.0 610.6L607.5 612.8L610.0 615.0L611.6 618.2L614.0 621.0L616.1 618.1L618.0 615.0L621.2 613.9L624.0 612.0L627.2 613.2L630.0 615.0L632.0 618.0L634.0 621.0L635.5 624.4L636.6 628.0L635.8 631.5L635.0 635.0L633.6 637.6L632.8 640.6L631.0 643.0L628.7 645.7L626.0 648.0L623.1 649.7L620.0 651.0L617.3 652.1L615.0 654.0L612.6 652.8L610.0 652.0L607.3 652.0L604.7 651.0L602.0 651.0L599.2 650.3L596.7 648.9L594.0 648.0L591.8 646.6L589.7 645.0L588.0 643.0L586.3 639.8L584.0 637.0Z" fill="none" stroke="#111" stroke-opacity="0.62" stroke-width="0.90"/>
<path d="M521 670L521 664L540 662.6L615 662.4L616 670Z" fill="#000"/>
<path d="M468 665.4L476 665L482 665.8L490 665L498 665.6L506 665.2" fill="none" stroke="#111" stroke-width="1"/>
<path d="M692 666L698 665.2L704 665.6L710 664.8" fill="none" stroke="#111" stroke-width="1"/>
</g>
<rect x="426.8" y="404.5" width="283.5" height="265.5" fill="none" stroke="#222" stroke-opacity="0.8" stroke-width="0.9"/>
<text x="158.6" y="8.9" font-size="12.4" textLength="161.6" lengthAdjust="spacingAndGlyphs">Bias condition: Vd=Vg=0.43V</text>
<text x="160.0" y="374.5" font-size="12.4" textLength="201.0" lengthAdjust="spacingAndGlyphs">Bias condition: Vd=0.18V, Vg=0.61V</text>
<text x="80.8" y="34.9" font-size="10.0" textLength="162.0" lengthAdjust="spacingAndGlyphs">Lattice Temperature, Vd=Vg=0.43V</text>
<text x="176.5" y="341.5" font-size="12.4" text-anchor="middle" textLength="109.0" lengthAdjust="spacingAndGlyphs">Lattice Temperature</text>
<path d="M20.0 311.6v-3M20.0 41.7v3" stroke="#222" stroke-width="0.7"/>
<text x="20.0" y="323.0" font-size="10.0" text-anchor="middle">0</text>
<path d="M73.3 311.6v-3M73.3 41.7v3" stroke="#222" stroke-width="0.7"/>
<text x="73.3" y="323.0" font-size="10.0" text-anchor="middle">50</text>
<path d="M126.6 311.6v-3M126.6 41.7v3" stroke="#222" stroke-width="0.7"/>
<text x="126.6" y="323.0" font-size="10.0" text-anchor="middle">100</text>
<path d="M179.9 311.6v-3M179.9 41.7v3" stroke="#222" stroke-width="0.7"/>
<text x="179.9" y="323.0" font-size="10.0" text-anchor="middle">150</text>
<path d="M233.2 311.6v-3M233.2 41.7v3" stroke="#222" stroke-width="0.7"/>
<text x="233.2" y="323.0" font-size="10.0" text-anchor="middle">200</text>
<path d="M286.5 311.6v-3M286.5 41.7v3" stroke="#222" stroke-width="0.7"/>
<text x="286.5" y="323.0" font-size="10.0" text-anchor="middle">250</text>
<path d="M20.0 311.6h3M308.2 311.6h-3" stroke="#222" stroke-width="0.7"/>
<text x="16.4" y="314.0" font-size="10.0" text-anchor="end">0</text>
<path d="M20.0 225.3h3M308.2 225.3h-3" stroke="#222" stroke-width="0.7"/>
<text x="16.4" y="227.7" font-size="10.0" text-anchor="end">50</text>
<path d="M20.0 139.0h3M308.2 139.0h-3" stroke="#222" stroke-width="0.7"/>
<text x="16.4" y="141.4" font-size="10.0" text-anchor="end">100</text>
<path d="M20.0 52.7h3M308.2 52.7h-3" stroke="#222" stroke-width="0.7"/>
<text x="16.4" y="55.1" font-size="10.0" text-anchor="end">150</text>
<linearGradient id="gtl" x1="0" y1="0" x2="0" y2="1"><stop offset="0.0000" stop-color="#870000"/><stop offset="0.0312" stop-color="#a70000"/><stop offset="0.0625" stop-color="#c60000"/><stop offset="0.0938" stop-color="#e60000"/><stop offset="0.1250" stop-color="#ff0600"/><stop offset="0.1562" stop-color="#ff2500"/><stop offset="0.1875" stop-color="#ff4500"/><stop offset="0.2188" stop-color="#ff6400"/><stop offset="0.2500" stop-color="#ff8300"/><stop offset="0.2812" stop-color="#ffa300"/><stop offset="0.3125" stop-color="#ffc200"/><stop offset="0.3438" stop-color="#ffe200"/><stop offset="0.3750" stop-color="#fdff02"/><stop offset="0.4062" stop-color="#deff21"/><stop offset="0.4375" stop-color="#beff41"/><stop offset="0.4688" stop-color="#9fff60"/><stop offset="0.5000" stop-color="#80ff80"/><stop offset="0.5312" stop-color="#60ff9f"/><stop offset="0.5625" stop-color="#41ffbe"/><stop offset="0.5938" stop-color="#21ffde"/><stop offset="0.6250" stop-color="#02fffd"/><stop offset="0.6562" stop-color="#00e2ff"/><stop offset="0.6875" stop-color="#00c2ff"/><stop offset="0.7188" stop-color="#00a3ff"/><stop offset="0.7500" stop-color="#0083ff"/><stop offset="0.7812" stop-color="#0064ff"/><stop offset="0.8125" stop-color="#0045ff"/><stop offset="0.8438" stop-color="#0025ff"/><stop offset="0.8750" stop-color="#0006ff"/><stop offset="0.9062" stop-color="#0000e6"/><stop offset="0.9375" stop-color="#0000c6"/><stop offset="0.9688" stop-color="#0000a7"/><stop offset="1.0000" stop-color="#000087"/></linearGradient>
<rect x="324.0" y="42.5" width="22.0" height="270.5" fill="url(#gtl)" stroke="#222" stroke-width="0.9"/>
<path d="M346.0 312.0h-2.5M324.0 312.0h2.5" stroke="#222" stroke-width="0.7"/>
<text x="347.7" y="315.0" font-size="10.0">300</text>
<path d="M346.0 258.1h-2.5M324.0 258.1h2.5" stroke="#222" stroke-width="0.7"/>
<text x="347.7" y="261.1" font-size="10.0">305</text>
<path d="M346.0 204.2h-2.5M324.0 204.2h2.5" stroke="#222" stroke-width="0.7"/>
<text x="347.7" y="207.2" font-size="10.0">310</text>
<path d="M346.0 150.3h-2.5M324.0 150.3h2.5" stroke="#222" stroke-width="0.7"/>
<text x="347.7" y="153.3" font-size="10.0">315</text>
<path d="M346.0 96.4h-2.5M324.0 96.4h2.5" stroke="#222" stroke-width="0.7"/>
<text x="347.7" y="99.4" font-size="10.0">320</text>
<path d="M346.0 42.5h-2.5M324.0 42.5h2.5" stroke="#222" stroke-width="0.7"/>
<text x="347.7" y="45.5" font-size="10.0">325</text>
<text x="480.5" y="34.7" font-size="10.0" textLength="171.0" lengthAdjust="spacingAndGlyphs">Optical Phonon Temp, Vd=Vg=0.43V</text>
<text x="585.7" y="340.5" font-size="12.4" text-anchor="middle" textLength="156.5" lengthAdjust="spacingAndGlyphs">Optical phonon Temperature</text>
<path d="M422.9 311.6v-3M422.9 41.7v3" stroke="#222" stroke-width="0.7"/>
<text x="422.9" y="323.0" font-size="10.0" text-anchor="middle">0</text>
<path d="M476.3 311.6v-3M476.3 41.7v3" stroke="#222" stroke-width="0.7"/>
<text x="476.3" y="323.0" font-size="10.0" text-anchor="middle">50</text>
<path d="M529.7 311.6v-3M529.7 41.7v3" stroke="#222" stroke-width="0.7"/>
<text x="529.7" y="323.0" font-size="10.0" text-anchor="middle">100</text>
<path d="M583.1 311.6v-3M583.1 41.7v3" stroke="#222" stroke-width="0.7"/>
<text x="583.1" y="323.0" font-size="10.0" text-anchor="middle">150</text>
<path d="M636.5 311.6v-3M636.5 41.7v3" stroke="#222" stroke-width="0.7"/>
<text x="636.5" y="323.0" font-size="10.0" text-anchor="middle">200</text>
<path d="M689.9 311.6v-3M689.9 41.7v3" stroke="#222" stroke-width="0.7"/>
<text x="689.9" y="323.0" font-size="10.0" text-anchor="middle">250</text>
<path d="M422.9 311.6h3M711.9 311.6h-3" stroke="#222" stroke-width="0.7"/>
<text x="419.3" y="314.0" font-size="10.0" text-anchor="end">0</text>
<path d="M422.9 225.3h3M711.9 225.3h-3" stroke="#222" stroke-width="0.7"/>
<text x="419.3" y="227.7" font-size="10.0" text-anchor="end">50</text>
<path d="M422.9 139.0h3M711.9 139.0h-3" stroke="#222" stroke-width="0.7"/>
<text x="419.3" y="141.4" font-size="10.0" text-anchor="end">100</text>
<path d="M422.9 52.7h3M711.9 52.7h-3" stroke="#222" stroke-width="0.7"/>
<text x="419.3" y="55.1" font-size="10.0" text-anchor="end">150</text>
<linearGradient id="gtr" x1="0" y1="0" x2="0" y2="1"><stop offset="0.0000" stop-color="#870000"/><stop offset="0.0312" stop-color="#a70000"/><stop offset="0.0625" stop-color="#c60000"/><stop offset="0.0938" stop-color="#e60000"/><stop offset="0.1250" stop-color="#ff0600"/><stop offset="0.1562" stop-color="#ff2500"/><stop offset="0.1875" stop-color="#ff4500"/><stop offset="0.2188" stop-color="#ff6400"/><stop offset="0.2500" stop-color="#ff8300"/><stop offset="0.2812" stop-color="#ffa300"/><stop offset="0.3125" stop-color="#ffc200"/><stop offset="0.3438" stop-color="#ffe200"/><stop offset="0.3750" stop-color="#fdff02"/><stop offset="0.4062" stop-color="#deff21"/><stop offset="0.4375" stop-color="#beff41"/><stop offset="0.4688" stop-color="#9fff60"/><stop offset="0.5000" stop-color="#80ff80"/><stop offset="0.5312" stop-color="#60ff9f"/><stop offset="0.5625" stop-color="#41ffbe"/><stop offset="0.5938" stop-color="#21ffde"/><stop offset="0.6250" stop-color="#02fffd"/><stop offset="0.6562" stop-color="#00e2ff"/><stop offset="0.6875" stop-color="#00c2ff"/><stop offset="0.7188" stop-color="#00a3ff"/><stop offset="0.7500" stop-color="#0083ff"/><stop offset="0.7812" stop-color="#0064ff"/><stop offset="0.8125" stop-color="#0045ff"/><stop offset="0.8438" stop-color="#0025ff"/><stop offset="0.8750" stop-color="#0006ff"/><stop offset="0.9062" stop-color="#0000e6"/><stop offset="0.9375" stop-color="#0000c6"/><stop offset="0.9688" stop-color="#0000a7"/><stop offset="1.0000" stop-color="#000087"/></linearGradient>
<rect x="727.8" y="42.7" width="21.7" height="270.5" fill="url(#gtr)" stroke="#222" stroke-width="0.9"/>
<path d="M749.5 312.2h-2.5M727.8 312.2h2.5" stroke="#222" stroke-width="0.7"/>
<text x="751.2" y="315.2" font-size="10.0">300</text>
<path d="M749.5 258.3h-2.5M727.8 258.3h2.5" stroke="#222" stroke-width="0.7"/>
<text x="751.2" y="261.3" font-size="10.0">305</text>
<path d="M749.5 204.4h-2.5M727.8 204.4h2.5" stroke="#222" stroke-width="0.7"/>
<text x="751.2" y="207.4" font-size="10.0">310</text>
<path d="M749.5 150.5h-2.5M727.8 150.5h2.5" stroke="#222" stroke-width="0.7"/>
<text x="751.2" y="153.5" font-size="10.0">315</text>
<path d="M749.5 96.6h-2.5M727.8 96.6h2.5" stroke="#222" stroke-width="0.7"/>
<text x="751.2" y="99.6" font-size="10.0">320</text>
<path d="M749.5 42.7h-2.5M727.8 42.7h2.5" stroke="#222" stroke-width="0.7"/>
<text x="751.2" y="45.7" font-size="10.0">325</text>
<text x="70.0" y="401.4" font-size="10.0" textLength="188.5" lengthAdjust="spacingAndGlyphs">Lattice Temperature, Vd=0.18, Vg=0.61V</text>
<text x="177.0" y="708.0" font-size="12.4" text-anchor="middle" textLength="109.0" lengthAdjust="spacingAndGlyphs">Lattice Temperature</text>
<path d="M23.0 675.0v-3M23.0 408.0v3" stroke="#222" stroke-width="0.7"/>
<text x="23.0" y="687.2" font-size="10.0" text-anchor="middle">0</text>
<path d="M82.3 675.0v-3M82.3 408.0v3" stroke="#222" stroke-width="0.7"/>
<text x="82.3" y="687.2" font-size="10.0" text-anchor="middle">50</text>
<path d="M141.7 675.0v-3M141.7 408.0v3" stroke="#222" stroke-width="0.7"/>
<text x="141.7" y="687.2" font-size="10.0" text-anchor="middle">100</text>
<path d="M201.1 675.0v-3M201.1 408.0v3" stroke="#222" stroke-width="0.7"/>
<text x="201.1" y="687.2" font-size="10.0" text-anchor="middle">150</text>
<path d="M260.4 675.0v-3M260.4 408.0v3" stroke="#222" stroke-width="0.7"/>
<text x="260.4" y="687.2" font-size="10.0" text-anchor="middle">200</text>
<path d="M23.0 675.0h3M308.4 675.0h-3" stroke="#222" stroke-width="0.7"/>
<text x="19.4" y="677.4" font-size="10.0" text-anchor="end">0</text>
<path d="M23.0 635.4h3M308.4 635.4h-3" stroke="#222" stroke-width="0.7"/>
<text x="19.4" y="637.8" font-size="10.0" text-anchor="end">20</text>
<path d="M23.0 595.8h3M308.4 595.8h-3" stroke="#222" stroke-width="0.7"/>
<text x="19.4" y="598.2" font-size="10.0" text-anchor="end">40</text>
<path d="M23.0 556.2h3M308.4 556.2h-3" stroke="#222" stroke-width="0.7"/>
<text x="19.4" y="558.6" font-size="10.0" text-anchor="end">60</text>
<path d="M23.0 516.6h3M308.4 516.6h-3" stroke="#222" stroke-width="0.7"/>
<text x="19.4" y="519.0" font-size="10.0" text-anchor="end">80</text>
<path d="M23.0 477.0h3M308.4 477.0h-3" stroke="#222" stroke-width="0.7"/>
<text x="19.4" y="479.4" font-size="10.0" text-anchor="end">100</text>
<path d="M23.0 437.4h3M308.4 437.4h-3" stroke="#222" stroke-width="0.7"/>
<text x="19.4" y="439.8" font-size="10.0" text-anchor="end">120</text>
<linearGradient id="gbl" x1="0" y1="0" x2="0" y2="1"><stop offset="0.0000" stop-color="#870000"/><stop offset="0.0312" stop-color="#a70000"/><stop offset="0.0625" stop-color="#c60000"/><stop offset="0.0938" stop-color="#e60000"/><stop offset="0.1250" stop-color="#ff0600"/><stop offset="0.1562" stop-color="#ff2500"/><stop offset="0.1875" stop-color="#ff4500"/><stop offset="0.2188" stop-color="#ff6400"/><stop offset="0.2500" stop-color="#ff8300"/><stop offset="0.2812" stop-color="#ffa300"/><stop offset="0.3125" stop-color="#ffc200"/><stop offset="0.3438" stop-color="#ffe200"/><stop offset="0.3750" stop-color="#fdff02"/><stop offset="0.4062" stop-color="#deff21"/><stop offset="0.4375" stop-color="#beff41"/><stop offset="0.4688" stop-color="#9fff60"/><stop offset="0.5000" stop-color="#80ff80"/><stop offset="0.5312" stop-color="#60ff9f"/><stop offset="0.5625" stop-color="#41ffbe"/><stop offset="0.5938" stop-color="#21ffde"/><stop offset="0.6250" stop-color="#02fffd"/><stop offset="0.6562" stop-color="#00e2ff"/><stop offset="0.6875" stop-color="#00c2ff"/><stop offset="0.7188" stop-color="#00a3ff"/><stop offset="0.7500" stop-color="#0083ff"/><stop offset="0.7812" stop-color="#0064ff"/><stop offset="0.8125" stop-color="#0045ff"/><stop offset="0.8438" stop-color="#0025ff"/><stop offset="0.8750" stop-color="#0006ff"/><stop offset="0.9062" stop-color="#0000e6"/><stop offset="0.9375" stop-color="#0000c6"/><stop offset="0.9688" stop-color="#0000a7"/><stop offset="1.0000" stop-color="#000087"/></linearGradient>
<rect x="324.5" y="408.8" width="21.3" height="267.7" fill="url(#gbl)" stroke="#222" stroke-width="0.9"/>
<path d="M345.8 676.0h-2.5M324.5 676.0h2.5" stroke="#222" stroke-width="0.7"/>
<text x="347.5" y="679.0" font-size="10.0">300</text>
<path d="M345.8 642.6h-2.5M324.5 642.6h2.5" stroke="#222" stroke-width="0.7"/>
<text x="347.5" y="645.6" font-size="10.0">301</text>
<path d="M345.8 609.2h-2.5M324.5 609.2h2.5" stroke="#222" stroke-width="0.7"/>
<text x="347.5" y="612.2" font-size="10.0">302</text>
<path d="M345.8 575.8h-2.5M324.5 575.8h2.5" stroke="#222" stroke-width="0.7"/>
<text x="347.5" y="578.8" font-size="10.0">303</text>
<path d="M345.8 542.4h-2.5M324.5 542.4h2.5" stroke="#222" stroke-width="0.7"/>
<text x="347.5" y="545.4" font-size="10.0">304</text>
<path d="M345.8 509.0h-2.5M324.5 509.0h2.5" stroke="#222" stroke-width="0.7"/>
<text x="347.5" y="512.0" font-size="10.0">305</text>
<path d="M345.8 475.6h-2.5M324.5 475.6h2.5" stroke="#222" stroke-width="0.7"/>
<text x="347.5" y="478.6" font-size="10.0">306</text>
<path d="M345.8 442.2h-2.5M324.5 442.2h2.5" stroke="#222" stroke-width="0.7"/>
<text x="347.5" y="445.2" font-size="10.0">307</text>
<path d="M345.8 408.8h-2.5M324.5 408.8h2.5" stroke="#222" stroke-width="0.7"/>
<text x="347.5" y="411.8" font-size="10.0">308</text>
<text x="470.0" y="398.2" font-size="10.0" textLength="194.5" lengthAdjust="spacingAndGlyphs">Optical Phonon Temp, Vd=0.48, Vg=0.61V</text>
<text x="586.2" y="708.0" font-size="12.4" text-anchor="middle" textLength="157.5" lengthAdjust="spacingAndGlyphs">Optical phonon Temperature</text>
<path d="M426.8 670.0v-3M426.8 404.5v3" stroke="#222" stroke-width="0.7"/>
<text x="426.8" y="682.2" font-size="10.0" text-anchor="middle">0</text>
<path d="M485.8 670.0v-3M485.8 404.5v3" stroke="#222" stroke-width="0.7"/>
<text x="485.8" y="682.2" font-size="10.0" text-anchor="middle">50</text>
<path d="M544.8 670.0v-3M544.8 404.5v3" stroke="#222" stroke-width="0.7"/>
<text x="544.8" y="682.2" font-size="10.0" text-anchor="middle">100</text>
<path d="M603.8 670.0v-3M603.8 404.5v3" stroke="#222" stroke-width="0.7"/>
<text x="603.8" y="682.2" font-size="10.0" text-anchor="middle">150</text>
<path d="M662.8 670.0v-3M662.8 404.5v3" stroke="#222" stroke-width="0.7"/>
<text x="662.8" y="682.2" font-size="10.0" text-anchor="middle">200</text>
<path d="M426.8 670.0h3M710.3 670.0h-3" stroke="#222" stroke-width="0.7"/>
<text x="423.2" y="672.4" font-size="10.0" text-anchor="end">0</text>
<path d="M426.8 630.5h3M710.3 630.5h-3" stroke="#222" stroke-width="0.7"/>
<text x="423.2" y="632.9" font-size="10.0" text-anchor="end">20</text>
<path d="M426.8 591.0h3M710.3 591.0h-3" stroke="#222" stroke-width="0.7"/>
<text x="423.2" y="593.4" font-size="10.0" text-anchor="end">40</text>
<path d="M426.8 551.5h3M710.3 551.5h-3" stroke="#222" stroke-width="0.7"/>
<text x="423.2" y="553.9" font-size="10.0" text-anchor="end">60</text>
<path d="M426.8 512.0h3M710.3 512.0h-3" stroke="#222" stroke-width="0.7"/>
<text x="423.2" y="514.4" font-size="10.0" text-anchor="end">80</text>
<path d="M426.8 472.5h3M710.3 472.5h-3" stroke="#222" stroke-width="0.7"/>
<text x="423.2" y="474.9" font-size="10.0" text-anchor="end">100</text>
<path d="M426.8 433.0h3M710.3 433.0h-3" stroke="#222" stroke-width="0.7"/>
<text x="423.2" y="435.4" font-size="10.0" text-anchor="end">120</text>
<linearGradient id="gbr" x1="0" y1="0" x2="0" y2="1"><stop offset="0.0000" stop-color="#870000"/><stop offset="0.0312" stop-color="#a70000"/><stop offset="0.0625" stop-color="#c60000"/><stop offset="0.0938" stop-color="#e60000"/><stop offset="0.1250" stop-color="#ff0600"/><stop offset="0.1562" stop-color="#ff2500"/><stop offset="0.1875" stop-color="#ff4500"/><stop offset="0.2188" stop-color="#ff6400"/><stop offset="0.2500" stop-color="#ff8300"/><stop offset="0.2812" stop-color="#ffa300"/><stop offset="0.3125" stop-color="#ffc200"/><stop offset="0.3438" stop-color="#ffe200"/><stop offset="0.3750" stop-color="#fdff02"/><stop offset="0.4062" stop-color="#deff21"/><stop offset="0.4375" stop-color="#beff41"/><stop offset="0.4688" stop-color="#9fff60"/><stop offset="0.5000" stop-color="#80ff80"/><stop offset="0.5312" stop-color="#60ff9f"/><stop offset="0.5625" stop-color="#41ffbe"/><stop offset="0.5938" stop-color="#21ffde"/><stop offset="0.6250" stop-color="#02fffd"/><stop offset="0.6562" stop-color="#00e2ff"/><stop offset="0.6875" stop-color="#00c2ff"/><stop offset="0.7188" stop-color="#00a3ff"/><stop offset="0.7500" stop-color="#0083ff"/><stop offset="0.7812" stop-color="#0064ff"/><stop offset="0.8125" stop-color="#0045ff"/><stop offset="0.8438" stop-color="#0025ff"/><stop offset="0.8750" stop-color="#0006ff"/><stop offset="0.9062" stop-color="#0000e6"/><stop offset="0.9375" stop-color="#0000c6"/><stop offset="0.9688" stop-color="#0000a7"/><stop offset="1.0000" stop-color="#000087"/></linearGradient>
<rect x="726.2" y="406.2" width="21.3" height="265.3" fill="url(#gbr)" stroke="#222" stroke-width="0.9"/>
<path d="M747.5 671.0h-2.5M726.2 671.0h2.5" stroke="#222" stroke-width="0.7"/>
<text x="749.2" y="674.0" font-size="10.0">300</text>
<path d="M747.5 637.9h-2.5M726.2 637.9h2.5" stroke="#222" stroke-width="0.7"/>
<text x="749.2" y="640.9" font-size="10.0">301</text>
<path d="M747.5 604.8h-2.5M726.2 604.8h2.5" stroke="#222" stroke-width="0.7"/>
<text x="749.2" y="607.8" font-size="10.0">302</text>
<path d="M747.5 571.7h-2.5M726.2 571.7h2.5" stroke="#222" stroke-width="0.7"/>
<text x="749.2" y="574.7" font-size="10.0">303</text>
<path d="M747.5 538.6h-2.5M726.2 538.6h2.5" stroke="#222" stroke-width="0.7"/>
<text x="749.2" y="541.6" font-size="10.0">304</text>
<path d="M747.5 505.5h-2.5M726.2 505.5h2.5" stroke="#222" stroke-width="0.7"/>
<text x="749.2" y="508.5" font-size="10.0">305</text>
<path d="M747.5 472.4h-2.5M726.2 472.4h2.5" stroke="#222" stroke-width="0.7"/>
<text x="749.2" y="475.4" font-size="10.0">306</text>
<path d="M747.5 439.3h-2.5M726.2 439.3h2.5" stroke="#222" stroke-width="0.7"/>
<text x="749.2" y="442.3" font-size="10.0">307</text>
<path d="M747.5 406.2h-2.5M726.2 406.2h2.5" stroke="#222" stroke-width="0.7"/>
<text x="749.2" y="409.2" font-size="10.0">308</text>
</g>
</svg>
</body></html>
